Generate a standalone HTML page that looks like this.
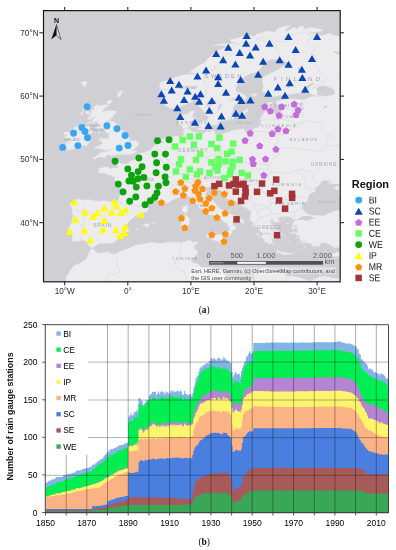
<!DOCTYPE html>
<html lang="en"><head><meta charset="utf-8"><title>Rain gauge stations by region</title>
<style>
html,body{margin:0;padding:0;background:#fff;}
body{width:396px;height:550px;overflow:hidden;position:relative;font-family:"Liberation Sans",sans-serif;}
svg{position:absolute;left:0;top:0;display:block;}
text{font-family:"Liberation Sans",sans-serif;}
.land{fill:#ececee;stroke:#dedee2;stroke-width:0.5;stroke-linejoin:round;}
.sea{fill:#cfcfd4;stroke:none;}
.lake{fill:#cfcfd4;stroke:none;}
.cl{fill:#a2a2aa;}
.cs{font-size:3.7px;fill:#a9a9af;}
.cx{font-size:3.2px;fill:#adadb3;}
.sl{font-size:3.9px;fill:#b6b6bd;font-style:italic;}
.ax{font-size:8.2px;fill:#333;}
.lg{font-size:10px;fill:#111;}
.sb{font-size:7.5px;fill:#5a5a5a;}
.cr{font-size:5.6px;fill:#4a4a4a;}
.ct{font-size:8.5px;fill:#000;}
.cleg{font-size:8.4px;fill:#000;}
.cap{font-family:"Liberation Serif",serif;font-size:9.5px;fill:#111;}
</style></head><body>
<svg width="396" height="550" viewBox="0 0 396 550">
<defs><clipPath id="mc"><rect x="43.5" y="10.6" width="296.7" height="271.2"/></clipPath>
<clipPath id="cc"><rect x="45.3" y="324.7" width="343.2" height="187.8"/></clipPath></defs>
<rect x="0" y="0" width="396" height="550" fill="#fff"/>

<g clip-path="url(#mc)">
<rect class="sea" x="43.5" y="10.6" width="296.7" height="271.2"/>
<polygon class="land" points="341.7,36.6 333.5,35.3 329.7,33.1 324.7,34.4 322.8,35.6 317.1,34.7 312.1,33.4 308.9,31.9 315.8,32.2 324.0,30.5 319.0,28.7 311.4,27.2 307.6,28.1 306.4,30.0 302.6,25.8 298.2,26.8 296.9,29.3 293.8,27.1 287.4,30.9 285.6,32.2 286.8,28.4 290.6,25.5 283.0,26.5 277.3,28.4 274.8,32.8 270.4,30.9 266.6,30.9 261.6,32.8 257.2,33.4 254.0,36.6 247.7,34.7 242.6,36.0 236.3,38.5 228.8,39.8 231.9,42.0 237.6,42.9 230.0,43.6 226.2,43.6 219.9,43.9 211.1,45.8 221.8,45.5 228.1,46.1 222.4,48.6 218.7,49.9 213.6,52.4 209.8,56.9 207.3,58.8 204.8,62.6 199.1,65.1 194.7,68.2 189.6,72.4 195.9,73.6 193.4,74.6 185.9,74.3 180.8,75.2 176.4,76.8 172.0,78.4 166.3,80.3 160.0,82.5 159.3,86.0 160.6,89.1 168.8,89.1 160.0,90.4 160.6,93.6 163.1,96.7 165.7,98.0 161.9,100.5 163.1,102.7 165.0,105.6 169.4,108.1 172.3,108.8 178.3,108.1 183.3,105.6 187.7,103.4 190.9,102.4 193.4,100.5 194.7,97.0 195.6,100.5 197.2,101.8 198.5,103.1 199.1,106.9 202.9,110.7 205.4,114.5 208.6,117.0 207.3,119.8 208.3,121.4 209.5,124.0 209.8,125.3 214.9,125.1 218.3,124.3 217.7,122.1 221.2,120.8 226.2,120.5 229.4,119.5 231.3,117.3 231.9,113.8 233.2,110.3 233.2,107.5 234.4,105.0 237.0,104.0 240.7,103.1 244.5,100.5 247.1,97.4 243.9,94.2 238.9,92.3 236.3,91.7 235.7,87.9 237.0,85.0 238.2,80.9 241.4,79.6 245.2,76.5 249.6,73.9 255.9,72.4 260.3,68.9 262.2,66.0 263.5,62.6 267.9,60.7 272.9,59.4 279.9,59.3 283.7,60.3 288.1,64.4 283.0,66.3 278.0,69.5 273.6,71.7 268.5,74.6 263.5,76.5 262.2,81.2 263.5,86.6 262.8,89.1 262.2,92.0 267.9,93.6 272.9,97.0 279.2,95.8 285.6,95.2 291.9,93.9 297.5,93.3 303.2,92.9 308.9,91.7 312.1,94.8 318.4,96.4 312.1,96.4 307.6,97.7 304.5,99.6 300.1,99.6 295.0,98.9 289.3,98.6 284.0,99.6 279.2,100.2 276.1,101.2 276.1,102.7 276.4,105.3 279.9,106.9 282.4,106.5 281.4,109.7 281.8,113.2 279.9,114.8 276.7,115.1 273.6,112.9 270.4,110.3 264.7,111.6 262.8,114.5 260.3,118.3 260.6,121.1 260.9,123.3 259.7,125.9 257.2,128.1 253.7,128.1 253.4,130.0 251.5,131.2 247.4,131.9 245.2,131.5 244.5,129.3 241.4,128.8 238.5,129.3 231.9,130.6 226.2,132.8 219.9,134.4 217.7,134.7 214.9,133.4 213.9,130.6 211.7,130.0 210.5,132.2 206.7,131.2 204.2,133.1 200.0,134.4 196.6,134.4 197.5,131.5 195.3,132.2 191.8,131.5 190.9,129.6 187.7,128.7 188.4,126.5 188.4,124.6 190.9,123.3 192.2,120.5 196.6,118.9 192.8,117.6 192.8,115.1 194.4,112.2 194.7,110.3 190.6,111.3 187.1,114.1 182.1,114.3 179.5,117.0 178.9,121.4 178.9,124.3 181.4,124.9 182.4,127.1 182.1,128.4 184.6,130.9 182.1,132.2 184.0,133.4 184.0,134.7 181.8,136.6 178.9,137.2 178.6,136.0 173.2,136.0 172.3,138.2 171.3,137.9 166.9,137.8 161.9,139.1 158.1,140.7 156.5,143.9 154.3,146.1 153.0,147.1 149.9,149.9 148.0,150.9 146.1,151.6 142.6,152.8 139.5,153.4 137.8,153.9 137.9,158.1 134.6,159.8 130.1,160.9 128.4,162.6 129.4,163.1 126.2,164.0 120.9,163.4 119.8,161.9 119.8,161.3 117.6,161.6 115.6,161.2 116.4,163.4 117.7,166.7 118.3,168.1 115.2,167.9 113.2,167.8 110.8,168.7 108.6,167.0 105.7,166.8 102.7,167.5 100.0,167.9 97.6,169.5 100.0,169.8 99.1,170.8 98.0,171.8 100.2,173.3 103.1,172.9 106.5,174.0 108.1,175.2 110.4,174.9 112.0,176.6 114.2,176.7 114.5,177.8 114.2,179.3 116.4,181.6 120.5,183.8 121.2,186.9 123.4,189.8 120.9,187.9 119.9,193.3 119.3,197.4 118.0,200.7 115.2,201.7 108.9,201.2 103.8,200.7 98.1,201.2 92.1,200.1 90.9,199.6 83.3,200.2 79.3,198.7 78.0,198.8 75.4,200.9 72.3,201.7 69.3,204.3 70.7,206.2 72.3,208.8 72.0,211.9 73.0,215.4 72.6,218.6 71.8,221.8 70.7,224.9 68.6,226.8 67.9,230.4 69.7,231.1 71.0,230.6 71.6,232.2 69.7,232.8 72.3,233.5 71.8,235.7 72.3,238.5 71.0,241.6 73.1,241.1 77.8,241.7 81.1,240.6 83.9,240.4 87.7,243.0 88.0,244.7 89.8,246.9 92.5,247.9 94.0,247.1 97.0,244.9 99.9,243.5 105.6,243.5 109.5,243.3 112.3,242.8 114.0,243.5 116.1,240.4 119.6,238.2 123.3,237.8 123.5,235.5 124.8,233.2 127.2,231.9 129.3,230.6 126.9,229.0 125.8,226.2 127.8,222.9 130.8,219.7 133.3,218.1 135.7,215.7 141.6,214.0 147.6,211.0 148.7,208.0 147.0,205.6 147.4,202.8 151.1,201.2 155.6,201.1 159.3,201.5 161.6,202.1 165.2,203.2 168.2,203.1 170.1,202.1 172.1,200.2 175.1,199.0 178.3,198.0 181.3,195.5 184.1,194.8 187.7,196.1 190.0,197.1 192.2,198.3 192.8,200.9 194.2,204.2 197.2,205.6 198.2,207.5 202.3,209.4 205.0,211.6 207.4,213.5 210.1,214.9 213.5,214.9 216.1,217.0 218.0,217.6 218.7,218.9 221.0,218.6 222.3,220.5 224.2,222.5 226.6,222.4 227.8,225.2 229.1,227.1 230.0,229.7 227.8,231.2 226.6,234.1 226.9,235.7 229.1,235.8 232.2,232.8 232.5,230.3 235.9,229.0 236.0,226.5 232.5,224.6 232.9,222.1 234.8,219.9 237.0,219.9 240.7,221.4 241.4,223.0 243.6,224.0 244.5,221.8 241.1,218.7 234.2,215.5 228.4,213.2 229.9,210.8 226.2,210.5 222.4,210.0 217.5,207.1 215.2,203.1 213.1,199.8 207.1,197.0 205.3,194.7 206.7,191.4 205.4,189.8 206.0,188.2 210.5,186.6 214.7,186.6 213.3,187.9 213.6,190.1 215.4,192.2 217.4,190.4 218.9,189.0 221.8,191.1 222.9,194.1 223.9,196.6 228.1,199.1 231.5,200.5 235.2,201.9 238.2,203.7 242.0,205.9 244.9,207.5 248.3,209.4 249.9,211.0 251.3,211.6 250.5,214.3 250.2,217.0 250.7,219.9 249.6,220.2 252.4,222.1 254.0,224.3 255.6,225.9 258.7,229.3 260.8,232.0 263.0,233.3 265.5,232.9 269.3,232.8 272.6,235.4 269.1,234.4 264.9,233.8 261.1,235.8 262.2,237.7 264.5,240.1 264.7,242.8 266.4,243.0 267.3,241.6 268.8,244.2 269.6,245.6 270.2,243.2 272.3,243.9 274.2,245.2 273.2,243.3 272.1,240.7 271.4,238.2 273.9,239.7 275.8,238.5 272.9,235.9 275.1,235.5 276.9,235.7 279.4,237.6 279.6,234.4 276.7,232.8 274.2,231.2 270.4,230.0 272.6,229.0 272.6,226.8 274.2,228.4 275.1,227.8 272.9,225.2 271.4,223.0 270.4,220.2 272.5,218.7 272.6,220.5 275.5,223.0 277.3,221.1 278.9,222.9 279.2,220.5 281.8,221.8 278.3,219.5 277.7,218.1 281.8,216.8 286.2,216.7 291.0,217.3 292.2,218.9 296.3,219.2 293.1,222.4 292.3,226.0 297.9,225.4 296.3,227.1 297.4,228.6 297.7,229.5 296.6,231.1 298.8,232.6 295.6,232.5 294.1,231.2 293.8,233.6 296.9,234.4 299.8,236.2 299.4,239.5 302.0,240.2 300.4,241.7 306.4,241.4 302.0,243.1 300.7,243.7 305.1,243.3 306.2,242.6 309.5,243.6 311.4,243.9 312.1,245.8 314.8,246.8 318.0,246.1 319.6,246.8 320.7,244.2 321.5,242.4 325.9,243.1 329.7,244.6 331.6,246.3 335.0,247.9 341.7,246.8"/>
<polygon class="sea" points="311.4,215.0 305.1,212.4 304.7,210.9 301.1,206.9 303.8,205.6 304.0,202.4 307.4,201.4 308.1,198.5 308.6,196.3 310.2,193.6 314.6,192.0 315.6,190.1 315.2,188.2 318.4,185.7 320.3,184.1 321.8,181.2 324.7,180.6 329.1,180.6 332.9,181.2 327.2,181.6 329.7,183.5 334.8,184.1 341.7,184.1 341.7,210.2 336.0,210.7 332.1,211.6 328.5,213.5 326.1,214.6 324.4,215.8 321.5,215.7 318.7,215.1 314.6,215.2"/>
<polygon class="land" points="341.7,185.4 337.3,186.3 332.9,188.8 336.0,189.2 338.4,189.8 339.5,191.4 338.6,193.6 339.5,194.5 341.7,194.8"/>
<polygon class="sea" points="297.5,219.5 298.8,218.8 301.3,216.6 306.1,215.9 310.7,216.2 313.3,217.6 316.5,218.0 313.3,218.4 309.5,219.3 311.4,220.2 304.5,220.4 302.6,219.5 300.1,220.0 296.9,220.3"/>
<polygon class="sea" points="341.7,55.3 336.0,53.7 332.2,50.8 336.0,51.8 341.7,52.7"/>
<polygon class="land" points="65.6,286.0 65.6,281.6 66.2,276.5 69.5,271.4 74.2,265.4 79.8,263.2 84.6,260.5 86.2,258.8 89.0,253.1 90.4,249.3 93.7,248.7 94.5,250.6 98.1,253.1 103.0,252.8 109.2,251.6 109.3,253.3 113.9,253.7 116.1,253.7 120.2,250.9 123.8,249.9 125.9,249.0 128.4,248.5 131.6,246.8 136.0,244.7 141.6,244.2 147.1,243.1 152.5,242.2 159.9,243.3 164.2,242.8 169.3,241.7 171.3,242.4 176.8,242.3 181.1,242.3 183.1,241.9 190.1,239.8 192.8,242.6 197.5,241.2 197.8,242.6 194.7,245.5 194.1,248.0 196.1,249.5 197.6,251.2 197.8,252.9 195.7,256.0 191.5,258.8 191.2,261.4 194.7,262.9 198.0,263.8 199.7,266.1 204.0,267.5 211.0,267.6 217.8,269.2 223.1,270.9 224.7,275.2 226.9,277.8 232.5,278.4 238.2,280.0 243.3,282.2 245.2,286.0 253.4,286.0 253.7,281.6 254.6,278.4 253.7,274.6 254.4,272.6 257.8,269.9 260.0,268.9 264.7,267.5 270.7,268.5 273.6,270.8 279.1,272.8 285.6,274.0 286.5,276.5 291.4,275.7 299.7,277.4 305.7,279.4 310.5,280.7 316.5,278.4 319.6,276.7 324.0,275.9 328.6,276.4 331.6,278.0 341.7,279.0 341.7,286.0"/>
<polygon class="land" points="91.8,159.0 93.2,158.0 95.7,156.7 96.6,155.9 99.3,152.9 101.3,152.4 101.8,151.7 105.9,151.7 109.0,150.9 111.1,149.3 108.9,149.6 107.8,150.2 104.5,150.1 102.9,149.3 100.7,149.5 100.0,148.3 98.1,148.8 95.0,148.8 94.4,147.5 96.4,146.6 98.3,146.0 102.1,144.1 102.2,142.2 101.7,140.9 97.8,141.7 100.7,139.6 98.5,138.5 100.4,137.8 101.9,138.8 103.6,138.3 105.7,138.4 108.2,138.8 108.6,137.6 108.9,136.3 108.6,135.2 109.8,133.4 107.3,133.4 104.9,130.9 105.3,130.0 108.6,128.1 105.1,128.6 102.2,129.1 100.0,129.8 97.5,128.7 97.1,130.1 95.5,128.8 95.3,127.8 97.1,126.2 98.6,124.8 97.4,123.7 97.8,121.7 95.6,121.7 94.0,122.4 93.1,124.9 91.3,125.9 91.6,124.6 92.8,120.9 93.3,118.8 95.6,116.2 91.8,117.9 88.5,116.8 91.0,115.1 91.7,113.3 91.1,112.4 91.8,110.5 91.1,109.6 94.4,109.4 93.9,107.2 96.2,104.8 97.9,105.2 99.9,105.4 102.6,105.0 105.6,105.0 106.5,104.5 108.7,104.7 108.4,106.0 104.8,108.0 102.6,109.6 103.9,109.6 101.2,112.1 103.4,111.4 107.1,110.5 115.2,110.7 116.6,111.9 114.7,114.1 113.9,115.3 112.3,117.0 111.5,117.9 109.1,118.6 111.5,119.6 107.9,120.8 106.3,121.4 107.8,121.5 110.6,121.0 112.0,121.4 114.4,121.9 115.2,122.9 117.1,124.0 118.3,126.9 118.8,127.7 119.2,128.4 120.4,129.7 121.2,130.2 124.0,131.0 125.3,132.3 127.3,133.3 126.5,134.1 128.6,136.7 125.7,135.9 127.4,136.8 129.5,138.3 130.0,139.5 128.1,141.0 130.3,141.7 130.9,140.7 133.2,140.6 136.0,140.9 138.8,142.9 138.9,143.7 138.4,144.7 137.9,145.8 136.3,147.1 135.1,148.1 133.8,149.3 132.2,149.7 130.3,150.1 132.5,150.2 134.3,150.8 136.5,150.6 136.6,151.7 136.1,152.3 135.2,152.6 133.9,153.6 131.5,154.0 129.4,154.7 126.9,154.2 125.5,154.3 122.8,154.8 120.9,154.4 119.0,153.7 118.1,154.7 115.9,154.8 115.5,155.6 112.3,155.5 112.3,156.2 109.3,154.8 106.3,155.5 105.6,156.5 104.8,158.0 101.7,157.1 98.5,157.3 95.8,158.5 95.0,159.7 92.8,158.6"/>
<polygon class="land" points="81.3,125.3 84.1,126.3 81.7,127.6 83.9,126.5 85.8,126.4 89.0,126.4 91.2,128.7 90.6,130.2 92.0,129.9 93.5,131.2 92.8,132.1 92.1,132.7 90.1,133.8 87.7,134.1 88.6,135.3 89.0,138.2 89.9,140.6 89.1,141.7 88.7,143.3 87.7,144.7 87.6,145.7 84.1,146.0 83.6,145.5 79.8,146.3 78.3,147.1 75.4,148.0 74.0,149.3 71.8,149.6 68.7,150.1 65.8,150.2 68.2,148.8 63.4,149.4 67.4,147.6 62.5,147.4 66.0,146.1 61.8,146.1 63.1,145.0 65.6,145.0 65.0,144.1 71.0,142.9 65.1,143.2 66.9,142.4 68.3,140.6 69.3,139.5 70.7,138.7 69.1,138.9 65.6,138.5 63.2,137.9 64.6,137.3 65.3,136.5 67.5,135.3 63.1,134.3 64.7,132.2 65.8,132.0 68.8,132.0 69.7,132.7 73.5,132.2 74.5,131.1 76.6,130.1 74.5,130.2 72.4,129.8 72.5,129.5 73.8,128.8 73.8,127.8 75.6,126.7 77.5,126.4 79.7,126.0 80.5,127.4 80.3,126.0"/>
<polygon class="land" points="83.0,110.0 88.7,105.6 89.0,107.5 87.4,108.8 85.5,110.3 83.0,110.7"/>
<polygon class="land" points="80.5,114.5 82.4,111.0 83.3,111.3 82.4,114.5"/>
<polygon class="land" points="85.2,112.2 88.0,110.7 89.3,112.9 92.1,113.5 89.9,114.9 87.1,113.8"/>
<polygon class="land" points="87.7,119.5 88.0,117.6 90.6,117.3 92.1,118.9 89.9,119.5"/>
<polygon class="land" points="86.8,123.3 89.0,121.9 91.8,120.5 91.5,122.1 89.3,124.0"/>
<polygon class="land" points="94.0,124.0 95.0,123.2 95.7,124.3 95.0,125.0"/>
<polygon class="land" points="106.3,102.7 107.6,101.5 109.5,100.2 112.7,100.8 110.8,102.7 109.5,104.0 107.0,103.8"/>
<polygon class="land" points="117.4,96.7 117.1,94.2 119.0,92.0 121.8,90.7 123.1,91.7 121.2,93.9 120.9,96.1 119.6,97.0"/>
<polygon class="land" points="80.5,82.8 83.6,81.2 87.4,81.5 86.2,83.8 85.5,87.2 83.6,86.0"/>
<polygon class="land" points="97.5,133.8 99.1,131.5 100.7,132.2 99.1,133.6"/>
<polygon class="land" points="117.8,155.2 119.6,154.5 121.0,155.1 119.6,155.8"/>
<polygon class="land" points="187.1,203.7 187.4,205.6 188.1,209.4 186.5,212.6 185.7,214.0 183.3,212.1 182.1,210.7 181.8,209.2 182.9,206.4 184.3,205.9 186.5,205.6 186.7,204.0"/>
<polygon class="land" points="185.7,214.8 188.1,216.9 189.8,219.3 189.0,223.1 187.9,228.4 185.2,227.8 183.6,229.8 180.8,229.0 180.7,226.2 181.4,223.6 180.7,222.5 181.2,220.8 180.2,219.2 179.3,219.2 179.5,216.7 180.8,217.4 182.7,216.9 184.6,215.5"/>
<polygon class="land" points="226.6,233.7 224.3,236.3 223.1,238.5 224.0,240.4 224.3,241.4 223.4,243.7 221.5,243.5 217.7,241.2 215.7,241.1 213.3,240.0 210.3,238.5 207.2,237.6 206.2,236.6 206.7,235.2 208.1,234.2 209.1,235.2 212.2,234.5 216.3,235.1 220.9,234.3 224.0,233.7"/>
<polygon class="land" points="142.4,225.4 144.8,224.0 148.1,223.0 147.7,223.8 149.7,224.5 148.8,225.7 147.6,227.3 147.0,227.3 144.4,225.5 142.8,225.7"/>
<polygon class="land" points="151.8,222.6 153.7,222.2 155.1,223.3 154.3,223.8 152.1,223.2"/>
<polygon class="land" points="135.4,229.3 136.9,228.4 138.1,229.0 136.6,230.0"/>
<polygon class="land" points="276.6,250.6 279.4,251.1 282.2,252.0 286.4,252.2 290.1,253.1 292.5,253.1 293.8,252.5 293.6,253.7 290.2,254.4 284.0,254.8 279.9,253.1 277.2,252.9 276.3,252.6"/>
<polygon class="land" points="274.2,228.8 279.9,231.4 282.9,234.4 281.9,235.4 281.1,235.0 278.0,232.9 276.7,232.4 274.9,230.5 273.2,230.0 271.9,230.0"/>
<polygon class="land" points="302.6,248.7 306.1,245.2 305.1,247.7 303.5,248.7"/>
<polygon class="land" points="290.9,227.8 293.1,226.6 295.6,227.1 295.0,229.0 292.5,229.2"/>
<polygon class="land" points="290.9,231.9 292.8,231.7 292.5,234.1 291.2,234.3"/>
<polygon class="land" points="295.5,237.1 298.6,236.8 297.9,237.6 296.0,237.7"/>
<polygon class="land" points="287.8,241.7 289.3,240.4 289.0,242.0"/>
<polygon class="land" points="283.7,235.7 285.2,236.3 285.6,237.3 284.3,236.6"/>
<polygon class="land" points="256.2,234.1 257.5,232.4 259.0,234.7 257.5,235.0"/>
<polygon class="land" points="251.8,224.3 253.7,224.0 254.6,226.5 253.1,226.2"/>
<polygon class="land" points="257.9,236.3 258.7,235.9 260.2,237.3 259.0,237.6"/>
<polygon class="land" points="285.6,223.3 287.1,222.6 288.4,223.3 286.8,224.0"/>
<polygon class="land" points="282.4,218.3 283.3,217.6 284.2,218.6 283.0,219.1"/>
<polygon class="land" points="298.8,251.8 299.4,248.7 299.7,251.2"/>
<polygon class="land" points="297.5,243.3 300.4,242.3 298.8,243.3"/>
<polygon class="land" points="331.5,253.8 334.0,253.2 335.6,253.3 335.5,251.8 338.0,252.1 341.7,251.5 341.7,255.0 336.2,257.1 334.1,256.6 332.2,255.9"/>
<polygon class="land" points="197.8,123.3 199.4,121.6 202.6,121.6 205.4,120.6 207.3,121.2 207.3,123.4 204.8,124.9 206.4,125.9 203.8,127.0 205.4,128.1 203.2,130.3 197.2,129.3 198.5,128.1 202.9,127.8 199.1,126.2 198.0,125.7"/>
<polygon class="land" points="189.3,124.6 192.8,123.8 195.6,124.9 196.3,126.8 193.4,127.6 190.3,126.5"/>
<polygon class="land" points="220.6,127.1 221.2,125.9 223.4,126.8 222.8,127.8"/>
<polygon class="land" points="242.0,114.5 243.3,111.3 247.1,109.1 249.0,109.1 246.7,112.2 243.9,115.4"/>
<polygon class="land" points="231.3,120.2 232.2,116.4 235.7,112.7 234.8,115.7 232.5,119.8"/>
<polygon class="land" points="265.4,106.9 266.6,105.3 271.0,104.6 274.8,105.0 273.6,106.2 269.8,107.5 267.3,109.1 266.3,108.1"/>
<polygon class="land" points="266.9,103.1 269.8,101.8 273.2,102.7 271.4,104.3 269.1,104.2"/>
<polygon class="land" points="250.8,94.8 253.4,93.3 257.2,94.2 255.9,95.8 252.7,95.8"/>
<polygon class="land" points="217.4,247.7 219.6,248.7 219.3,249.3 218.0,248.7"/>
<polygon class="lake" points="317.1,95.5 317.7,91.7 315.8,89.1 320.9,85.7 325.3,85.7 332.2,88.5 335.4,91.7 334.1,94.2 331.0,95.2 326.6,96.1 324.7,96.4 323.4,96.4 322.8,95.5"/>
<polygon class="lake" points="298.2,103.1 301.3,102.4 303.8,103.4 301.3,106.9 305.1,108.4 303.8,109.7 301.3,108.8 300.1,106.2"/>
<polygon class="lake" points="206.0,103.7 207.9,101.8 211.7,99.9 216.1,100.2 216.8,102.4 214.2,104.3 209.8,105.9 206.7,106.2"/>
<polygon class="lake" points="217.1,110.0 218.7,106.5 219.9,103.4 222.1,104.3 220.6,107.5 219.0,110.0"/>
<polygon class="lake" points="228.8,98.9 234.4,98.6 240.7,99.6 238.9,100.5 232.5,99.9"/>
<polygon class="lake" points="323.4,107.5 324.7,105.6 327.2,106.5 325.9,108.1"/>
<polygon class="lake" points="302.6,89.1 305.7,86.6 310.2,84.1 312.1,82.2 313.9,83.4 309.5,87.2 306.4,89.1"/>
<polygon class="lake" points="297.5,69.5 298.8,67.3 302.6,68.2 300.7,69.8"/>
<polygon class="lake" points="287.4,88.5 288.1,84.1 290.0,83.4 289.3,87.9"/>
<polygon class="lake" points="160.0,142.9 160.6,140.4 163.1,141.4 163.1,143.3"/>
<polygon class="lake" points="337.9,75.8 341.7,74.6 341.7,76.5"/>
<polygon class="lake" points="341.7,71.4 339.2,73.3 341.7,73.9"/>
<path d="M197.8 101.8L202.3 100.5L201.6 96.7L206.7 94.8L205.4 89.8L209.2 87.6L204.8 85.3L204.2 79.6L204.2 73.9L209.8 70.8L216.8 67.9L214.2 67.0L219.3 62.6L219.9 57.5L225.6 56.2L231.3 50.5L229.4 48.6L237.0 44.8L242.0 42.3L254.0 42.9L257.5 38.8M257.5 38.8L263.5 41.0L272.3 43.2L277.3 46.1L276.4 50.5L278.9 53.1L278.6 56.9L280.2 59.4M257.5 38.8L260.3 37.9L264.1 37.2L269.1 40.9L274.2 41.5L284.9 42.0L290.6 39.4L290.0 37.9L291.9 34.7L298.2 33.4L304.5 32.2L307.0 33.7L312.7 37.2L310.5 38.8M310.5 38.8L312.7 36.0L317.7 35.0L322.5 34.1M310.5 38.8L307.6 39.8L307.6 44.2L316.5 47.4L311.4 52.4L317.7 60.0L315.2 65.1L320.6 70.1L317.1 72.4L326.6 77.7L325.3 80.3L313.9 87.9L303.2 92.6M304.8 99.6L302.6 102.4M302.0 109.7L300.7 111.6M281.4 109.6L287.4 108.4L295.0 111.6L300.7 111.6L303.5 113.2L302.6 116.0L305.7 120.5L302.0 122.7L295.6 123.4M260.6 121.0L267.3 118.8L279.2 119.5L285.6 119.5L295.6 123.4L296.9 126.2L290.6 128.4L289.3 132.8L281.8 134.7L276.1 134.4M276.1 134.4L271.7 131.7L271.0 128.1L266.6 127.4L262.0 126.2M271.7 131.7L251.8 131.2M276.1 134.4L278.6 142.3L274.2 144.8L276.7 149.9L279.9 154.0L276.1 156.9L270.7 162.2L270.1 165.2M276.7 149.9L285.6 147.4L299.4 149.3L312.1 150.5L320.9 151.2L323.1 146.3L328.5 146.1L341.7 144.5M305.7 120.5L317.1 122.4L322.8 124.0L323.4 127.8L322.1 129.0L325.3 132.8L332.9 136.0L334.1 137.6L325.9 139.1L328.5 146.1M217.7 134.7L218.7 139.1L217.1 141.4L220.2 143.3L220.9 146.3L219.9 148.0L222.4 151.2L221.3 153.9M221.3 153.9L218.0 153.1L213.0 155.0L206.7 157.2L204.2 157.5L207.0 160.0L206.0 161.0L209.8 163.8L215.2 167.2M221.3 153.9L224.3 154.0L230.0 155.3L231.0 156.2L233.2 158.8L235.1 156.9L239.5 157.5L241.4 159.4L246.7 162.4M215.2 167.2L220.6 168.3L222.4 165.7L228.8 167.3L234.8 168.3L236.3 166.7L242.0 165.1L246.7 162.4L252.7 164.5L254.6 163.8L260.3 163.2L270.1 165.2L267.6 169.5M267.6 169.5L264.7 169.8L257.2 168.9L251.5 170.8L246.4 171.7L245.8 173.3L240.1 173.6L236.0 172.1M234.8 168.3L236.0 172.1L235.7 174.0L231.6 175.9L229.4 179.3M267.6 169.5L272.3 172.1L266.6 175.9L261.6 182.2L255.7 184.0M272.3 172.1L284.9 173.6L295.6 170.5L302.0 169.2L311.7 172.1L314.6 182.2L317.9 182.2M295.6 170.5L299.4 173.3L305.1 179.0L306.1 188.2L314.9 189.2M270.8 196.0L272.3 198.6L281.1 199.3L289.3 199.6L298.2 196.6L308.1 199.0M255.7 184.0L262.8 189.8L262.8 192.3L267.3 194.2L270.8 196.0M255.7 184.0L247.1 185.2L239.2 185.7L232.5 181.7L229.4 179.3M229.4 179.3L226.6 180.3L219.9 182.2L214.2 181.4L206.0 180.3L204.5 177.9L197.2 179.8L193.9 179.3M193.9 179.3L193.7 181.2L191.2 183.1L186.5 181.6L184.6 185.8L181.1 181.9L177.3 185.2L172.2 185.2L170.7 182.2L165.5 183.5L166.3 181.2L171.7 176.5L175.7 174.7L181.8 173.3L188.1 175.0L188.4 178.1L193.9 179.3M188.1 175.0L193.7 174.9L197.2 175.9L204.8 174.6L209.8 175.2L209.2 170.8L212.7 168.5L215.2 167.2M172.2 185.2L169.6 190.4L172.0 195.8L176.4 196.4L175.3 198.8M116.6 201.4L123.1 204.0L131.9 205.6L136.9 206.2L147.8 207.3M71.8 210.9L76.1 209.4L76.4 211.3L86.5 210.4L88.7 212.8L84.1 216.2L84.6 221.1L83.4 224.8L80.3 224.9L83.9 228.8L81.7 232.5L83.6 234.1L80.5 238.2L81.0 240.6M143.9 152.6L147.7 154.5L154.0 159.6L158.4 158.5L164.4 162.2L168.0 162.8L174.5 164.7L179.7 165.9L175.8 172.1L175.7 174.7M149.1 150.7L154.6 150.7L159.7 150.1L164.7 152.1L163.5 154.2L165.8 154.7L166.3 151.8L165.7 147.8L170.4 147.4L172.3 145.2L170.1 142.6L173.2 138.8M165.8 154.7L167.9 157.3L166.4 158.6L168.8 160.7L168.0 162.8M182.4 128.4L187.4 128.9M82.1 127.4L80.2 129.3L76.4 131.2L81.7 133.1L85.8 133.8L88.2 133.4M213.6 188.1L219.9 186.9L224.3 187.9L226.6 183.5L232.5 181.7M227.2 189.8L230.7 191.1L235.1 189.8L241.4 190.4L247.7 191.9L249.9 191.7L248.3 195.5L251.5 197.7L249.0 200.5L244.2 206.6M227.2 189.8L228.8 196.1L236.3 200.9L239.2 203.7M247.1 185.2L247.7 191.9M249.0 200.5L255.9 204.7L254.3 206.6L250.2 211.0M254.3 206.6L257.8 210.7L257.2 214.5L260.0 217.3M255.9 204.7L264.7 205.6L268.8 208.1M257.8 210.7L264.1 208.5L268.8 208.1M254.0 224.6L260.0 217.3L272.3 214.2L281.1 212.9L294.1 211.9L295.6 214.2L292.2 218.0M294.1 211.9L300.1 209.4L304.5 210.2M270.8 196.0L269.1 203.7L272.9 202.4L268.8 208.1L272.6 214.2M113.9 253.7L116.8 257.5L117.1 265.1L120.2 272.4L108.9 275.2L104.8 282.8M182.1 242.0L179.9 248.0L180.2 256.2L175.1 260.0L175.4 265.7L180.2 270.2L184.9 272.7L187.7 284.1M200.7 265.9L200.0 270.8L192.8 275.2L192.8 280.3L187.7 284.1M286.5 275.6L285.6 286.0" fill="none" stroke="#d7d7dc" stroke-width="0.6" stroke-linejoin="round"/>
<text class="cl" style="font-size:5.7px" x="204.8" y="78.3" textLength="36.5" lengthAdjust="spacing">SWEDEN</text>
<text class="cl" style="font-size:5.8px" x="273.8" y="81.0" textLength="46.2" lengthAdjust="spacing">FINLAND</text>
<text class="cl" style="font-size:4.2px" x="179.5" y="88.8" textLength="18.0" lengthAdjust="spacing">NORWAY</text>
<text class="cl" style="font-size:3.8px" x="176.0" y="123.5" textLength="30.5" lengthAdjust="spacing">DENMARK</text>
<text class="cl" style="font-size:3.9px" x="270.0" y="106.6" textLength="23.0" lengthAdjust="spacing">ESTONIA</text>
<text class="cl" style="font-size:3.9px" x="277.0" y="117.6" textLength="16.0" lengthAdjust="spacing">LATVIA</text>
<text class="cl" style="font-size:4.0px" x="261.5" y="126.6" textLength="34.1" lengthAdjust="spacing">LITHUANIA</text>
<text class="cl" style="font-size:4.3px" x="289.4" y="141.2" textLength="27.8" lengthAdjust="spacing">BELARUS</text>
<text class="cl" style="font-size:4.7px" x="311.0" y="165.5" textLength="25.4" lengthAdjust="spacing">UKRAINE</text>
<text class="cl" style="font-size:4.5px" x="178.0" y="151.7" textLength="29.4" lengthAdjust="spacing">GERMANY</text>
<text class="cl" style="font-size:3.8px" x="208.0" y="161.9" textLength="28.7" lengthAdjust="spacing">CZECHIA</text>
<text class="cl" style="font-size:3.8px" x="204.0" y="178.8" textLength="18.0" lengthAdjust="spacing">AUSTRIA</text>
<text class="cl" style="font-size:3.8px" x="236.6" y="181.8" textLength="21.4" lengthAdjust="spacing">HUNGARY</text>
<text class="cl" style="font-size:4.2px" x="271.8" y="186.1" textLength="29.2" lengthAdjust="spacing">ROMANIA</text>
<text class="cl" style="font-size:4.4px" x="274.4" y="205.3" textLength="30.3" lengthAdjust="spacing">BULGARIA</text>
<text class="cl" style="font-size:4.5px" x="257.2" y="228.9" textLength="24.0" lengthAdjust="spacing">GREECE</text>
<text class="cl" style="font-size:4.2px" x="196.0" y="207.0" textLength="12.0" lengthAdjust="spacing">ITALY</text>
<text class="cl" style="font-size:3.9px" x="137.5" y="180.9" textLength="16.7" lengthAdjust="spacing">FRANCE</text>
<text class="cl" style="font-size:5.2px" x="93.3" y="227.0" textLength="18.2" lengthAdjust="spacing">SPAIN</text>
<text class="cl" style="font-size:3.7px" x="64.0" y="141.2" textLength="16.4" lengthAdjust="spacing">IRELAND</text>
<text class="cl" style="font-size:3.0px" x="90.0" y="127.1" textLength="10.6" lengthAdjust="spacing">UNITED</text>
<text class="cl" style="font-size:3.0px" x="89.2" y="131.2" textLength="13.9" lengthAdjust="spacing">KINGDOM</text>
<text class="cl" style="font-size:4.4px" x="171.7" y="260.4" textLength="25.3" lengthAdjust="spacing">TUNISIA</text>
<text class="sl" x="135.0" y="115.8" textLength="16.0" lengthAdjust="spacing">North Sea</text>
<text class="sl" x="236.0" y="124.0" textLength="16.0" lengthAdjust="spacing">Baltic Sea</text>
<text class="sl" x="318.0" y="203.0" textLength="18.0" lengthAdjust="spacing">Black Sea</text>
<circle cx="87.2" cy="106.7" r="3.45" fill="#38a5f7"/>
<circle cx="81.9" cy="127.5" r="3.45" fill="#38a5f7"/>
<circle cx="85.0" cy="131.5" r="3.45" fill="#38a5f7"/>
<circle cx="73.6" cy="133.2" r="3.45" fill="#38a5f7"/>
<circle cx="87.5" cy="137.8" r="3.45" fill="#38a5f7"/>
<circle cx="106.9" cy="125.8" r="3.45" fill="#38a5f7"/>
<circle cx="117.0" cy="128.8" r="3.45" fill="#38a5f7"/>
<circle cx="125.1" cy="135.5" r="3.45" fill="#38a5f7"/>
<circle cx="77.9" cy="145.6" r="3.45" fill="#38a5f7"/>
<circle cx="62.7" cy="147.4" r="3.45" fill="#38a5f7"/>
<circle cx="128.0" cy="145.5" r="3.45" fill="#38a5f7"/>
<circle cx="119.2" cy="148.1" r="3.45" fill="#38a5f7"/>
<polygon points="246.7,32.1 242.6,39.1 250.8,39.1" fill="#0a47b2"/>
<polygon points="228.3,43.7 224.2,50.8 232.4,50.8" fill="#0a47b2"/>
<polygon points="246.1,39.8 242.0,46.8 250.2,46.8" fill="#0a47b2"/>
<polygon points="216.2,50.0 212.1,57.0 220.2,57.0" fill="#0a47b2"/>
<polygon points="239.7,48.9 235.6,55.9 243.8,55.9" fill="#0a47b2"/>
<polygon points="223.2,56.2 219.1,63.3 227.2,63.3" fill="#0a47b2"/>
<polygon points="235.4,60.5 231.3,67.6 239.5,67.6" fill="#0a47b2"/>
<polygon points="206.1,66.4 202.0,73.5 210.2,73.5" fill="#0a47b2"/>
<polygon points="197.5,72.5 193.4,79.5 201.6,79.5" fill="#0a47b2"/>
<polygon points="218.2,73.2 214.1,80.2 222.2,80.2" fill="#0a47b2"/>
<polygon points="240.7,76.0 236.6,83.1 244.8,83.1" fill="#0a47b2"/>
<polygon points="218.2,80.0 214.1,87.0 222.2,87.0" fill="#0a47b2"/>
<polygon points="170.2,77.0 166.1,84.0 174.2,84.0" fill="#0a47b2"/>
<polygon points="179.0,80.8 174.9,87.8 183.1,87.8" fill="#0a47b2"/>
<polygon points="171.7,86.5 167.6,93.6 175.8,93.6" fill="#0a47b2"/>
<polygon points="187.6,87.4 183.5,94.5 191.7,94.5" fill="#0a47b2"/>
<polygon points="200.5,90.2 196.4,97.2 204.6,97.2" fill="#0a47b2"/>
<polygon points="226.0,88.7 221.9,95.8 230.1,95.8" fill="#0a47b2"/>
<polygon points="161.4,90.2 157.3,97.2 165.5,97.2" fill="#0a47b2"/>
<polygon points="195.2,92.8 191.1,99.8 199.2,99.8" fill="#0a47b2"/>
<polygon points="238.9,93.7 234.8,100.8 243.0,100.8" fill="#0a47b2"/>
<polygon points="184.1,96.0 180.0,103.0 188.2,103.0" fill="#0a47b2"/>
<polygon points="163.9,96.8 159.8,103.8 168.0,103.8" fill="#0a47b2"/>
<polygon points="211.9,96.9 207.8,104.0 216.0,104.0" fill="#0a47b2"/>
<polygon points="199.2,97.8 195.1,104.8 203.2,104.8" fill="#0a47b2"/>
<polygon points="250.0,51.5 245.9,58.5 254.1,58.5" fill="#0a47b2"/>
<polygon points="255.7,43.6 251.6,50.6 259.8,50.6" fill="#0a47b2"/>
<polygon points="269.5,39.8 265.4,46.8 273.6,46.8" fill="#0a47b2"/>
<polygon points="288.5,33.0 284.4,40.0 292.6,40.0" fill="#0a47b2"/>
<polygon points="317.0,33.0 312.9,40.0 321.1,40.0" fill="#0a47b2"/>
<polygon points="295.6,46.1 291.6,53.1 299.7,53.1" fill="#0a47b2"/>
<polygon points="263.2,57.7 259.1,64.8 267.2,64.8" fill="#0a47b2"/>
<polygon points="279.6,56.2 275.6,63.2 283.7,63.2" fill="#0a47b2"/>
<polygon points="288.5,60.7 284.4,67.8 292.6,67.8" fill="#0a47b2"/>
<polygon points="312.0,54.9 307.9,61.9 316.1,61.9" fill="#0a47b2"/>
<polygon points="301.9,65.8 297.8,72.8 305.9,72.8" fill="#0a47b2"/>
<polygon points="258.2,70.8 254.1,77.8 262.2,77.8" fill="#0a47b2"/>
<polygon points="302.4,74.0 298.3,81.0 306.4,81.0" fill="#0a47b2"/>
<polygon points="289.7,79.2 285.6,86.2 293.8,86.2" fill="#0a47b2"/>
<polygon points="277.9,83.5 273.8,90.5 281.9,90.5" fill="#0a47b2"/>
<polygon points="305.2,85.7 301.1,92.8 309.2,92.8" fill="#0a47b2"/>
<polygon points="268.3,89.7 264.2,96.8 272.4,96.8" fill="#0a47b2"/>
<polygon points="285.0,91.7 280.9,98.8 289.1,98.8" fill="#0a47b2"/>
<polygon points="250.4,96.5 246.3,103.5 254.5,103.5" fill="#0a47b2"/>
<polygon points="241.4,96.9 237.3,104.0 245.5,104.0" fill="#0a47b2"/>
<polygon points="242.1,111.8 238.0,118.8 246.2,118.8" fill="#0a47b2"/>
<polygon points="177.3,104.2 173.2,111.2 181.4,111.2" fill="#0a47b2"/>
<polygon points="209.3,106.7 205.2,113.8 213.4,113.8" fill="#0a47b2"/>
<polygon points="180.3,113.0 176.2,120.0 184.4,120.0" fill="#0a47b2"/>
<polygon points="221.5,112.5 217.4,119.5 225.6,119.5" fill="#0a47b2"/>
<polygon points="235.9,109.7 231.8,116.8 240.0,116.8" fill="#0a47b2"/>
<polygon points="194.9,118.8 190.8,125.8 199.0,125.8" fill="#0a47b2"/>
<polygon points="208.6,121.9 204.5,129.0 212.7,129.0" fill="#0a47b2"/>
<polygon points="220.7,122.4 216.6,129.5 224.8,129.5" fill="#0a47b2"/>
<polygon points="264.7,103.2 268.3,105.8 266.9,110.0 262.5,110.0 261.1,105.8" fill="#c56bdd"/>
<polygon points="270.3,107.5 273.9,110.1 272.5,114.3 268.1,114.3 266.7,110.1" fill="#c56bdd"/>
<polygon points="281.7,103.2 285.3,105.8 283.9,110.0 279.5,110.0 278.1,105.8" fill="#c56bdd"/>
<polygon points="294.3,100.6 297.9,103.2 296.5,107.4 292.1,107.4 290.7,103.2" fill="#c56bdd"/>
<polygon points="298.1,106.4 301.7,109.0 300.3,113.2 295.9,113.2 294.5,109.0" fill="#c56bdd"/>
<polygon points="296.1,111.2 299.7,113.8 298.3,118.0 293.9,118.0 292.5,113.8" fill="#c56bdd"/>
<polygon points="279.1,112.0 282.7,114.6 281.3,118.8 276.9,118.8 275.5,114.6" fill="#c56bdd"/>
<polygon points="277.9,125.4 281.5,128.0 280.1,132.2 275.7,132.2 274.3,128.0" fill="#c56bdd"/>
<polygon points="286.0,127.2 289.6,129.8 288.2,134.0 283.8,134.0 282.4,129.8" fill="#c56bdd"/>
<polygon points="272.2,130.1 275.8,132.7 274.4,136.9 270.0,136.9 268.6,132.7" fill="#c56bdd"/>
<polygon points="250.2,129.7 253.8,132.3 252.4,136.5 248.0,136.5 246.6,132.3" fill="#c56bdd"/>
<polygon points="245.1,137.0 248.7,139.6 247.3,143.8 242.9,143.8 241.5,139.6" fill="#c56bdd"/>
<polygon points="259.7,142.3 263.3,144.9 261.9,149.1 257.5,149.1 256.1,144.9" fill="#c56bdd"/>
<polygon points="275.9,145.8 279.5,148.4 278.1,152.6 273.7,152.6 272.3,148.4" fill="#c56bdd"/>
<polygon points="252.5,155.7 256.1,158.3 254.7,162.5 250.3,162.5 248.9,158.3" fill="#c56bdd"/>
<polygon points="253.3,160.3 256.9,162.9 255.5,167.1 251.1,167.1 249.7,162.9" fill="#c56bdd"/>
<polygon points="265.6,155.4 269.2,158.0 267.8,162.2 263.4,162.2 262.0,158.0" fill="#c56bdd"/>
<polygon points="263.8,171.7 267.4,174.3 266.0,178.5 261.6,178.5 260.2,174.3" fill="#c56bdd"/>
<rect x="186.6" y="133.2" width="6.5" height="6.5" fill="#66ff66"/>
<rect x="195.7" y="133.2" width="6.5" height="6.5" fill="#66ff66"/>
<rect x="179.4" y="136.8" width="6.5" height="6.5" fill="#66ff66"/>
<rect x="216.2" y="134.4" width="6.5" height="6.5" fill="#66ff66"/>
<rect x="171.8" y="143.3" width="6.5" height="6.5" fill="#66ff66"/>
<rect x="190.6" y="141.4" width="6.5" height="6.5" fill="#66ff66"/>
<rect x="208.2" y="140.8" width="6.5" height="6.5" fill="#66ff66"/>
<rect x="229.9" y="140.4" width="6.5" height="6.5" fill="#66ff66"/>
<rect x="213.8" y="144.9" width="6.5" height="6.5" fill="#66ff66"/>
<rect x="197.1" y="150.6" width="6.5" height="6.5" fill="#66ff66"/>
<rect x="228.3" y="148.3" width="6.5" height="6.5" fill="#66ff66"/>
<rect x="223.9" y="150.6" width="6.5" height="6.5" fill="#66ff66"/>
<rect x="177.8" y="156.1" width="6.5" height="6.5" fill="#66ff66"/>
<rect x="192.7" y="156.7" width="6.5" height="6.5" fill="#66ff66"/>
<rect x="208.2" y="159.1" width="6.5" height="6.5" fill="#66ff66"/>
<rect x="215.2" y="155.7" width="6.5" height="6.5" fill="#66ff66"/>
<rect x="236.4" y="156.7" width="6.5" height="6.5" fill="#66ff66"/>
<rect x="229.3" y="158.7" width="6.5" height="6.5" fill="#66ff66"/>
<rect x="222.3" y="158.1" width="6.5" height="6.5" fill="#66ff66"/>
<rect x="175.8" y="161.1" width="6.5" height="6.5" fill="#66ff66"/>
<rect x="215.2" y="161.1" width="6.5" height="6.5" fill="#66ff66"/>
<rect x="229.3" y="163.2" width="6.5" height="6.5" fill="#66ff66"/>
<rect x="172.8" y="168.2" width="6.5" height="6.5" fill="#66ff66"/>
<rect x="186.6" y="166.2" width="6.5" height="6.5" fill="#66ff66"/>
<rect x="196.7" y="168.2" width="6.5" height="6.5" fill="#66ff66"/>
<rect x="206.2" y="169.6" width="6.5" height="6.5" fill="#66ff66"/>
<rect x="214.2" y="167.2" width="6.5" height="6.5" fill="#66ff66"/>
<rect x="227.3" y="167.2" width="6.5" height="6.5" fill="#66ff66"/>
<rect x="238.4" y="169.6" width="6.5" height="6.5" fill="#66ff66"/>
<rect x="182.6" y="173.7" width="6.5" height="6.5" fill="#66ff66"/>
<rect x="193.7" y="171.2" width="6.5" height="6.5" fill="#66ff66"/>
<rect x="221.2" y="174.7" width="6.5" height="6.5" fill="#66ff66"/>
<rect x="244.6" y="172.2" width="6.5" height="6.5" fill="#66ff66"/>
<rect x="212.2" y="164.2" width="6.5" height="6.5" fill="#66ff66"/>
<rect x="226.6" y="171.1" width="6.5" height="6.5" fill="#66ff66"/>
<circle cx="157.5" cy="140.8" r="3.45" fill="#0da30d"/>
<circle cx="169.0" cy="139.8" r="3.45" fill="#0da30d"/>
<circle cx="154.8" cy="154.1" r="3.45" fill="#0da30d"/>
<circle cx="165.5" cy="154.1" r="3.45" fill="#0da30d"/>
<circle cx="138.9" cy="158.0" r="3.45" fill="#0da30d"/>
<circle cx="115.1" cy="161.2" r="3.45" fill="#0da30d"/>
<circle cx="156.6" cy="162.8" r="3.45" fill="#0da30d"/>
<circle cx="166.3" cy="167.3" r="3.45" fill="#0da30d"/>
<circle cx="142.1" cy="166.8" r="3.45" fill="#0da30d"/>
<circle cx="127.8" cy="168.9" r="3.45" fill="#0da30d"/>
<circle cx="138.1" cy="171.6" r="3.45" fill="#0da30d"/>
<circle cx="156.1" cy="172.7" r="3.45" fill="#0da30d"/>
<circle cx="131.5" cy="175.3" r="3.45" fill="#0da30d"/>
<circle cx="143.9" cy="177.4" r="3.45" fill="#0da30d"/>
<circle cx="165.1" cy="176.9" r="3.45" fill="#0da30d"/>
<circle cx="138.1" cy="178.8" r="3.45" fill="#0da30d"/>
<circle cx="128.9" cy="181.0" r="3.45" fill="#0da30d"/>
<circle cx="133.3" cy="181.3" r="3.45" fill="#0da30d"/>
<circle cx="118.3" cy="184.1" r="3.45" fill="#0da30d"/>
<circle cx="166.0" cy="182.7" r="3.45" fill="#0da30d"/>
<circle cx="136.3" cy="187.1" r="3.45" fill="#0da30d"/>
<circle cx="146.9" cy="185.9" r="3.45" fill="#0da30d"/>
<circle cx="158.4" cy="186.3" r="3.45" fill="#0da30d"/>
<circle cx="123.0" cy="191.9" r="3.45" fill="#0da30d"/>
<circle cx="157.0" cy="193.0" r="3.45" fill="#0da30d"/>
<circle cx="135.8" cy="196.9" r="3.45" fill="#0da30d"/>
<circle cx="154.8" cy="197.2" r="3.45" fill="#0da30d"/>
<circle cx="129.7" cy="201.3" r="3.45" fill="#0da30d"/>
<circle cx="150.4" cy="200.8" r="3.45" fill="#0da30d"/>
<circle cx="145.1" cy="204.8" r="3.45" fill="#0da30d"/>
<polygon points="74.1,198.4 70.0,205.6 78.1,205.6" fill="#ffff00"/>
<polygon points="114.1,198.4 110.0,205.6 118.1,205.6" fill="#ffff00"/>
<polygon points="85.0,208.2 81.0,215.4 89.0,215.4" fill="#ffff00"/>
<polygon points="104.3,204.1 100.2,211.2 108.3,211.2" fill="#ffff00"/>
<polygon points="116.8,201.9 112.8,209.1 120.8,209.1" fill="#ffff00"/>
<polygon points="97.5,209.1 93.5,216.2 101.5,216.2" fill="#ffff00"/>
<polygon points="93.0,212.8 89.0,220.0 97.0,220.0" fill="#ffff00"/>
<polygon points="111.8,208.2 107.8,215.4 115.8,215.4" fill="#ffff00"/>
<polygon points="120.9,208.8 116.9,215.9 125.0,215.9" fill="#ffff00"/>
<polygon points="125.5,205.9 121.5,213.1 129.6,213.1" fill="#ffff00"/>
<polygon points="140.7,210.5 136.6,217.7 144.8,217.7" fill="#ffff00"/>
<polygon points="75.5,215.5 71.5,222.7 79.5,222.7" fill="#ffff00"/>
<polygon points="104.3,216.6 100.2,223.8 108.3,223.8" fill="#ffff00"/>
<polygon points="69.5,227.5 65.5,234.7 73.5,234.7" fill="#ffff00"/>
<polygon points="84.3,226.4 80.2,233.6 88.3,233.6" fill="#ffff00"/>
<polygon points="102.7,225.8 98.7,232.9 106.8,232.9" fill="#ffff00"/>
<polygon points="115.7,225.8 111.7,232.9 119.8,232.9" fill="#ffff00"/>
<polygon points="125.2,222.8 121.2,230.0 129.2,230.0" fill="#ffff00"/>
<polygon points="124.3,229.1 120.2,236.2 128.3,236.2" fill="#ffff00"/>
<polygon points="120.2,231.9 116.2,239.1 124.2,239.1" fill="#ffff00"/>
<polygon points="90.2,235.9 86.2,243.1 94.2,243.1" fill="#ffff00"/>
<polygon points="180.8,179.0 184.4,181.6 183.0,185.8 178.6,185.8 177.2,181.6" fill="#ff9012"/>
<polygon points="198.0,178.6 201.6,181.2 200.2,185.4 195.8,185.4 194.4,181.2" fill="#ff9012"/>
<polygon points="184.9,185.0 188.5,187.6 187.1,191.8 182.7,191.8 181.3,187.6" fill="#ff9012"/>
<polygon points="195.6,182.5 199.2,185.1 197.8,189.3 193.4,189.3 192.0,185.1" fill="#ff9012"/>
<polygon points="202.4,185.2 206.0,187.8 204.6,192.0 200.2,192.0 198.8,187.8" fill="#ff9012"/>
<polygon points="175.7,188.0 179.3,190.6 177.9,194.8 173.5,194.8 172.1,190.6" fill="#ff9012"/>
<polygon points="183.3,191.6 186.9,194.2 185.5,198.4 181.1,198.4 179.7,194.2" fill="#ff9012"/>
<polygon points="198.5,190.4 202.1,193.0 200.7,197.2 196.3,197.2 194.9,193.0" fill="#ff9012"/>
<polygon points="194.9,186.9 198.5,189.5 197.1,193.7 192.7,193.7 191.3,189.5" fill="#ff9012"/>
<polygon points="214.3,189.0 217.9,191.6 216.5,195.8 212.1,195.8 210.7,191.6" fill="#ff9012"/>
<polygon points="224.4,190.5 228.0,193.1 226.6,197.3 222.2,197.3 220.8,193.1" fill="#ff9012"/>
<polygon points="161.3,199.0 164.9,201.6 163.5,205.8 159.1,205.8 157.7,201.6" fill="#ff9012"/>
<polygon points="192.8,197.2 196.4,199.8 195.0,204.0 190.6,204.0 189.2,199.8" fill="#ff9012"/>
<polygon points="200.1,195.4 203.7,198.0 202.3,202.2 197.9,202.2 196.5,198.0" fill="#ff9012"/>
<polygon points="209.0,194.7 212.6,197.3 211.2,201.5 206.8,201.5 205.4,197.3" fill="#ff9012"/>
<polygon points="205.8,199.8 209.4,202.4 208.0,206.6 203.6,206.6 202.2,202.4" fill="#ff9012"/>
<polygon points="231.3,199.3 234.9,201.9 233.5,206.1 229.1,206.1 227.7,201.9" fill="#ff9012"/>
<polygon points="211.9,204.5 215.5,207.1 214.1,211.3 209.7,211.3 208.3,207.1" fill="#ff9012"/>
<polygon points="205.8,207.6 209.4,210.2 208.0,214.4 203.6,214.4 202.2,210.2" fill="#ff9012"/>
<polygon points="225.2,209.6 228.8,212.2 227.4,216.4 223.0,216.4 221.6,212.2" fill="#ff9012"/>
<polygon points="217.0,214.0 220.6,216.6 219.2,220.8 214.8,220.8 213.4,216.6" fill="#ff9012"/>
<polygon points="181.5,214.6 185.1,217.2 183.7,221.4 179.3,221.4 177.9,217.2" fill="#ff9012"/>
<polygon points="184.7,224.2 188.3,226.8 186.9,231.0 182.5,231.0 181.1,226.8" fill="#ff9012"/>
<polygon points="211.8,231.2 215.4,233.8 214.0,238.0 209.6,238.0 208.2,233.8" fill="#ff9012"/>
<polygon points="225.3,230.4 228.9,233.0 227.5,237.2 223.1,237.2 221.7,233.0" fill="#ff9012"/>
<polygon points="224.0,238.0 227.6,240.6 226.2,244.8 221.8,244.8 220.4,240.6" fill="#ff9012"/>
<rect x="211.2" y="182.9" width="6.5" height="6.5" fill="#a33538"/>
<rect x="215.9" y="180.6" width="6.5" height="6.5" fill="#a33538"/>
<rect x="225.8" y="182.2" width="6.5" height="6.5" fill="#a33538"/>
<rect x="232.6" y="176.2" width="6.5" height="6.5" fill="#a33538"/>
<rect x="235.3" y="181.3" width="6.5" height="6.5" fill="#a33538"/>
<rect x="232.6" y="188.4" width="6.5" height="6.5" fill="#a33538"/>
<rect x="240.3" y="180.7" width="6.5" height="6.5" fill="#a33538"/>
<rect x="242.1" y="184.8" width="6.5" height="6.5" fill="#a33538"/>
<rect x="242.4" y="189.2" width="6.5" height="6.5" fill="#a33538"/>
<rect x="241.8" y="193.2" width="6.5" height="6.5" fill="#a33538"/>
<rect x="237.8" y="197.7" width="6.5" height="6.5" fill="#a33538"/>
<rect x="230.3" y="180.7" width="6.5" height="6.5" fill="#a33538"/>
<rect x="253.8" y="188.6" width="6.5" height="6.5" fill="#a33538"/>
<rect x="258.8" y="180.3" width="6.5" height="6.5" fill="#a33538"/>
<rect x="272.9" y="176.3" width="6.5" height="6.5" fill="#a33538"/>
<rect x="266.9" y="190.1" width="6.5" height="6.5" fill="#a33538"/>
<rect x="271.1" y="187.6" width="6.5" height="6.5" fill="#a33538"/>
<rect x="275.8" y="197.2" width="6.5" height="6.5" fill="#a33538"/>
<rect x="288.8" y="190.6" width="6.5" height="6.5" fill="#a33538"/>
<rect x="288.9" y="194.6" width="6.5" height="6.5" fill="#a33538"/>
<rect x="281.8" y="205.4" width="6.5" height="6.5" fill="#a33538"/>
<rect x="233.3" y="216.1" width="6.5" height="6.5" fill="#a33538"/>
<rect x="273.8" y="231.9" width="6.5" height="6.5" fill="#a33538"/>
<text x="54.0" y="22.9" style="font-size:7px;font-weight:bold;fill:#111;">N</text>
<polygon points="56.4,24.5 51.3,39.5 56.4,35.3" fill="#111"/>
<polygon points="56.4,24.5 61,39.5 56.4,35.3" fill="#dfdfe3" stroke="#111" stroke-width="0.55"/>
<rect x="209" y="261.0" width="114" height="3.7" fill="#505050"/>
<rect x="237.3" y="261.8" width="28.6" height="2.1" fill="#f4f4f4"/>
<rect x="209.6" y="262.4" width="13.8" height="0.9" fill="#aaa"/>
<text class="sb" x="208.6" y="258.4" text-anchor="middle">0</text>
<text class="sb" x="236.8" y="258.4" text-anchor="middle">500</text>
<text class="sb" x="266" y="258.4" text-anchor="middle">1.000</text>
<text class="sb" x="322.5" y="258.3" text-anchor="middle">2.000</text>
<text class="sb" x="324.6" y="263.8">km</text>
<rect x="190" y="267.2" width="146" height="7" fill="#fff" opacity="0.38"/>
<rect x="190" y="274.2" width="63.5" height="7.6" fill="#fff" opacity="0.38"/>
<text class="cr" x="191.3" y="272.8">Esri, HERE, Garmin, (c) OpenStreetMap contributors, and</text>
<text class="cr" x="191.3" y="280.2">the GIS user community</text>
</g>
<rect x="43.5" y="10.6" width="296.7" height="271.2" fill="none" stroke="#1a1a1a" stroke-width="1.2"/>
<path d="M64.7 7.0 V10.6 M64.7 281.8 V285.4" stroke="#1a1a1a" stroke-width="1"/>
<text class="ax" x="64.7" y="294.4" text-anchor="middle">10°W</text>
<path d="M127.8 7.0 V10.6 M127.8 281.8 V285.4" stroke="#1a1a1a" stroke-width="1"/>
<text class="ax" x="127.8" y="294.4" text-anchor="middle">0°</text>
<path d="M190.9 7.0 V10.6 M190.9 281.8 V285.4" stroke="#1a1a1a" stroke-width="1"/>
<text class="ax" x="190.9" y="294.4" text-anchor="middle">10°E</text>
<path d="M254.0 7.0 V10.6 M254.0 281.8 V285.4" stroke="#1a1a1a" stroke-width="1"/>
<text class="ax" x="254.0" y="294.4" text-anchor="middle">20°E</text>
<path d="M317.1 7.0 V10.6 M317.1 281.8 V285.4" stroke="#1a1a1a" stroke-width="1"/>
<text class="ax" x="317.1" y="294.4" text-anchor="middle">30°E</text>
<path d="M39.3 32.8 H43.5 M340.2 32.8 H344.0" stroke="#1a1a1a" stroke-width="1"/>
<text class="ax" x="38.6" y="35.7" text-anchor="end">70°N</text>
<path d="M39.3 96.1 H43.5 M340.2 96.1 H344.0" stroke="#1a1a1a" stroke-width="1"/>
<text class="ax" x="38.6" y="99.0" text-anchor="end">60°N</text>
<path d="M39.3 159.4 H43.5 M340.2 159.4 H344.0" stroke="#1a1a1a" stroke-width="1"/>
<text class="ax" x="38.6" y="162.3" text-anchor="end">50°N</text>
<path d="M39.3 222.7 H43.5 M340.2 222.7 H344.0" stroke="#1a1a1a" stroke-width="1"/>
<text class="ax" x="38.6" y="225.6" text-anchor="end">40°N</text>
<text x="351.8" y="187.7" style="font-size:11px;font-weight:bold;fill:#111;">Region</text>
<circle cx="358.7" cy="200.1" r="3.45" fill="#38a5f7"/>
<text class="lg" transform="translate(368.7,203.4) rotate(0.05) scale(0.87,1)">BI</text>
<polygon points="358.7,207.7 354.6,214.8 362.8,214.8" fill="#0a47b2"/>
<text class="lg" transform="translate(368.7,214.5) rotate(0.05) scale(0.87,1)">SC</text>
<polygon points="358.7,218.9 362.3,221.5 360.9,225.7 356.5,225.7 355.1,221.5" fill="#c56bdd"/>
<text class="lg" transform="translate(368.7,225.6) rotate(0.05) scale(0.87,1)">EE</text>
<rect x="355.4" y="230.2" width="6.5" height="6.5" fill="#66ff66"/>
<text class="lg" transform="translate(368.7,236.8) rotate(0.05) scale(0.87,1)">CE</text>
<circle cx="358.7" cy="244.6" r="3.45" fill="#0da30d"/>
<text class="lg" transform="translate(368.7,247.9) rotate(0.05) scale(0.87,1)">WE</text>
<polygon points="358.7,252.1 354.6,259.2 362.8,259.2" fill="#ffff00"/>
<text class="lg" transform="translate(368.7,259.0) rotate(0.05) scale(0.87,1)">IP</text>
<polygon points="358.7,263.4 362.3,266.0 360.9,270.2 356.5,270.2 355.1,266.0" fill="#ff9012"/>
<text class="lg" transform="translate(368.7,270.1) rotate(0.05) scale(0.87,1)">MR</text>
<rect x="355.4" y="274.7" width="6.5" height="6.5" fill="#a33538"/>
<text class="lg" transform="translate(368.7,281.2) rotate(0.05) scale(0.87,1)">SE</text>
<text class="cap" x="204.2" y="312.8" text-anchor="middle">(<tspan font-weight="bold">a</tspan>)</text>
<rect x="45.3" y="324.7" width="343.2" height="187.8" fill="#fff"/>
<g clip-path="url(#cc)">
<path d="M45.5 512.5V482.8H46.5V482.4H47.6V481.6H48.6V480.6H49.6V480.8H50.7V480.2H51.7V479.5H52.7V479.1H53.8V479.6H54.8V478.3H55.8V476.8H56.9V476.9H57.9V477.3H58.9V476.7H60.0V477.0H61.0V477.1H62.0V476.5H63.1V475.5H64.1V474.7H65.1V475.6H66.2V474.7H67.2V474.0H68.2V474.0H69.3V474.3H70.3V474.0H71.3V472.7H72.4V472.9H73.4V472.8H74.4V472.3H75.5V470.9H76.5V470.7H77.5V470.2H78.6V470.5H79.6V470.3H80.6V470.3H81.7V469.0H82.7V469.2H83.7V468.4H84.8V468.5H85.8V468.2H86.8V467.9H87.9V467.7H88.9V467.3H90.0V466.8H91.0V466.6H92.0V464.8H93.1V464.4H94.1V464.5H95.1V463.3H96.2V462.5H97.2V461.5H98.2V460.7H99.3V460.1H100.3V459.4H101.3V458.7H102.4V458.5H103.4V456.2H104.4V455.1H105.5V454.1H106.5V452.7H107.5V451.2H108.6V451.5H109.6V449.2H110.6V449.3H111.7V449.0H112.7V449.1H113.7V447.9H114.8V447.7H115.8V447.4H116.8V446.5H117.9V446.2H118.9V445.3H119.9V445.2H121.0V444.9H122.0V444.9H123.0V444.8H124.1V444.0H125.1V442.9H126.1V443.4H127.2V442.6H128.2V417.3H129.2V415.6H130.3V412.8H131.3V415.3H132.3V415.3H133.4V412.7H134.4V412.1H135.4V411.4H136.5V409.3H137.5V411.7H138.5V397.9H139.6V398.4H140.6V400.7H141.6V400.8H142.7V405.3H143.7V403.7H144.7V403.0H145.8V400.3H146.8V400.2H147.8V399.9H148.9V395.9H149.9V394.3H150.9V393.8H152.0V391.7H153.0V391.7H154.0V392.0H155.1V391.4H156.1V395.1H157.1V393.2H158.2V391.6H159.2V394.0H160.2V391.9H161.3V390.7H162.3V392.3H163.3V392.2H164.4V394.6H165.4V391.5H166.4V392.4H167.5V392.6H168.5V393.9H169.6V392.6H170.6V390.7H171.6V390.8H172.7V392.2H173.7V390.3H174.7V392.1H175.8V391.6H176.8V391.0H177.8V390.5H178.9V392.3H179.9V390.6H180.9V391.3H182.0V394.4H183.0V394.8H184.0V391.1H185.1V393.7H186.1V394.3H187.1V394.8H188.2V395.2H189.2V394.2H190.2V393.9H191.3V396.4H192.3V393.2H193.3V387.5H194.4V384.6H195.4V378.6H196.4V376.8H197.5V375.2H198.5V371.4H199.5V368.2H200.6V366.5H201.6V367.2H202.6V365.2H203.7V364.8H204.7V364.8H205.7V362.9H206.8V363.0H207.8V363.4H208.8V360.9H209.9V360.7H210.9V358.0H211.9V359.3H213.0V358.7H214.0V358.6H215.0V359.4H216.1V360.5H217.1V358.4H218.1V357.4H219.2V358.4H220.2V360.6H221.2V359.0H222.3V359.9H223.3V356.7H224.3V358.6H225.4V359.6H226.4V360.2H227.4V361.2H228.5V360.5H229.5V362.9H230.5V363.3H231.6V371.8H232.6V376.7H233.6V374.7H234.7V372.0H235.7V372.9H236.7V374.8H237.8V373.6H238.8V373.9H239.8V376.8H240.9V371.1H241.9V368.1H242.9V364.9H244.0V362.2H245.0V361.1H246.0V356.6H247.1V356.2H248.1V353.7H249.1V351.3H250.2V353.2H251.2V353.9H252.2V351.9H253.3V343.0H254.3V343.1H255.4V343.0H256.4V342.9H257.4V342.8H258.5V343.2H259.5V343.0H260.5V342.8H261.6V342.8H262.6V343.0H263.6V343.2H264.7V342.7H265.7V342.6H266.7V342.8H267.8V342.8H268.8V342.8H269.8V342.5H270.9V342.3H271.9V342.4H272.9V342.8H274.0V342.6H275.0V342.5H276.0V342.5H277.1V342.6H278.1V342.6H279.1V342.6H280.2V342.6H281.2V342.7H282.2V342.6H283.3V342.8H284.3V342.6H285.3V342.7H286.4V342.7H287.4V342.6H288.4V342.8H289.5V342.5H290.5V342.4H291.5V342.6H292.6V342.8H293.6V342.5H294.6V342.5H295.7V342.7H296.7V342.4H297.7V342.5H298.8V342.8H299.8V342.5H300.8V342.5H301.9V342.3H302.9V342.4H303.9V342.4H305.0V342.5H306.0V342.4H307.0V342.7H308.1V342.5H309.1V342.4H310.1V342.7H311.2V342.4H312.2V342.3H313.2V342.5H314.3V342.5H315.3V342.5H316.3V342.1H317.4V342.2H318.4V342.3H319.4V342.1H320.5V342.2H321.5V342.2H322.5V342.2H323.6V342.4H324.6V342.2H325.6V342.1H326.7V342.5H327.7V342.5H328.7V342.1H329.8V342.5H330.8V342.2H331.8V342.1H332.9V342.2H333.9V342.3H334.9V341.9H336.0V342.0H337.0V341.8H338.1V341.1H339.1V341.4H340.1V341.8H341.2V342.3H342.2V342.3H343.2V342.9H344.3V342.9H345.3V343.5H346.3V343.4H347.4V343.6H348.4V343.5H349.4V343.4H350.5V343.9H351.5V344.4H352.5V344.8H353.6V345.8H354.6V346.4H355.6V346.6H356.7V348.9H357.7V349.3H358.7V353.5H359.8V354.6H360.8V358.9H361.8V359.7H362.9V361.5H363.9V362.1H364.9V363.2H366.0V363.7H367.0V365.8H368.0V369.5H369.1V368.3H370.1V368.9H371.1V369.4H372.2V370.6H373.2V372.0H374.2V372.7H375.3V372.0H376.3V373.4H377.3V373.2H378.4V373.8H379.4V375.3H380.4V373.2H381.5V374.0H382.5V374.3H383.5V375.2H384.6V376.2H385.6V378.2H386.6V378.8H387.7V378.9H388.7V382.5H389.7V387.0H388.6V512.5Z" fill="#82b4e6"/>
<path d="M45.5 512.5V487.2H46.5V487.4H47.6V486.8H48.6V486.3H49.6V486.0H50.7V485.3H51.7V484.6H52.7V484.5H53.8V484.9H54.8V483.7H55.8V482.6H56.9V482.5H57.9V482.6H58.9V481.9H60.0V482.2H61.0V481.9H62.0V481.3H63.1V480.5H64.1V479.7H65.1V480.1H66.2V479.2H67.2V478.5H68.2V478.3H69.3V478.6H70.3V478.4H71.3V477.0H72.4V477.4H73.4V477.8H74.4V476.8H75.5V475.7H76.5V475.2H77.5V474.9H78.6V475.2H79.6V475.0H80.6V475.1H81.7V473.8H82.7V473.9H83.7V472.9H84.8V473.2H85.8V472.8H86.8V472.4H87.9V472.4H88.9V471.9H90.0V471.8H91.0V471.6H92.0V469.9H93.1V469.0H94.1V468.8H95.1V467.6H96.2V466.5H97.2V465.5H98.2V464.5H99.3V464.0H100.3V463.3H101.3V462.8H102.4V462.5H103.4V460.8H104.4V459.8H105.5V459.2H106.5V457.9H107.5V457.2H108.6V457.1H109.6V455.0H110.6V454.8H111.7V454.9H112.7V454.4H113.7V453.6H114.8V453.1H115.8V453.1H116.8V451.6H117.9V451.6H118.9V450.4H119.9V450.5H121.0V449.9H122.0V450.1H123.0V449.6H124.1V448.7H125.1V447.7H126.1V447.7H127.2V447.3H128.2V422.8H129.2V421.6H130.3V419.7H131.3V421.4H132.3V420.9H133.4V418.5H134.4V417.6H135.4V417.7H136.5V414.8H137.5V417.8H138.5V404.7H139.6V403.9H140.6V405.0H141.6V404.8H142.7V408.5H143.7V406.3H144.7V405.7H145.8V402.4H146.8V401.9H147.8V402.0H148.9V399.4H149.9V400.1H150.9V400.1H152.0V397.6H153.0V397.8H154.0V397.7H155.1V398.3H156.1V400.8H157.1V399.3H158.2V398.3H159.2V400.2H160.2V397.9H161.3V396.1H162.3V398.1H163.3V397.6H164.4V399.9H165.4V396.9H166.4V398.4H167.5V398.0H168.5V398.7H169.6V397.5H170.6V395.9H171.6V395.8H172.7V396.9H173.7V396.4H174.7V397.7H175.8V397.3H176.8V396.8H177.8V397.2H178.9V398.0H179.9V396.1H180.9V397.1H182.0V400.3H183.0V400.3H184.0V396.7H185.1V399.0H186.1V399.1H187.1V400.0H188.2V399.6H189.2V398.3H190.2V398.1H191.3V400.3H192.3V397.2H193.3V392.4H194.4V390.3H195.4V385.0H196.4V382.3H197.5V380.7H198.5V376.3H199.5V373.0H200.6V372.4H201.6V371.6H202.6V370.4H203.7V370.0H204.7V370.1H205.7V368.3H206.8V368.6H207.8V368.9H208.8V367.5H209.9V367.5H210.9V365.1H211.9V366.1H213.0V365.9H214.0V366.3H215.0V366.8H216.1V368.3H217.1V367.1H218.1V367.2H219.2V368.3H220.2V369.6H221.2V368.6H222.3V368.8H223.3V366.5H224.3V368.4H225.4V368.8H226.4V369.1H227.4V370.5H228.5V370.9H229.5V373.1H230.5V373.0H231.6V379.6H232.6V383.6H233.6V382.2H234.7V380.1H235.7V380.9H236.7V382.1H237.8V381.5H238.8V383.0H239.8V384.5H240.9V379.4H241.9V374.8H242.9V370.2H244.0V367.1H245.0V366.1H246.0V363.2H247.1V363.6H248.1V363.3H249.1V360.9H250.2V362.6H251.2V363.2H252.2V360.7H253.3V351.1H254.3V351.2H255.4V351.1H256.4V351.1H257.4V351.1H258.5V351.3H259.5V351.2H260.5V351.0H261.6V350.9H262.6V351.1H263.6V351.4H264.7V350.9H265.7V350.8H266.7V350.9H267.8V351.0H268.8V350.9H269.8V350.8H270.9V350.7H271.9V350.7H272.9V351.0H274.0V350.9H275.0V350.8H276.0V350.7H277.1V350.9H278.1V350.9H279.1V350.8H280.2V350.8H281.2V350.9H282.2V350.8H283.3V351.0H284.3V350.8H285.3V350.9H286.4V351.0H287.4V350.9H288.4V351.0H289.5V350.8H290.5V350.6H291.5V350.7H292.6V350.9H293.6V350.7H294.6V350.8H295.7V350.9H296.7V350.5H297.7V350.6H298.8V350.8H299.8V350.7H300.8V350.6H301.9V350.5H302.9V350.6H303.9V350.6H305.0V350.8H306.0V350.6H307.0V350.8H308.1V350.7H309.1V350.7H310.1V350.8H311.2V350.6H312.2V350.5H313.2V350.6H314.3V350.6H315.3V350.6H316.3V350.1H317.4V350.4H318.4V350.4H319.4V350.2H320.5V350.4H321.5V350.3H322.5V350.4H323.6V350.5H324.6V350.2H325.6V350.3H326.7V350.4H327.7V350.5H328.7V350.2H329.8V350.4H330.8V350.2H331.8V350.1H332.9V350.1H333.9V350.2H334.9V350.0H336.0V350.3H337.0V350.3H338.1V349.9H339.1V350.1H340.1V350.4H341.2V350.9H342.2V350.8H343.2V351.4H344.3V351.5H345.3V351.9H346.3V351.8H347.4V352.2H348.4V352.2H349.4V352.1H350.5V352.7H351.5V353.3H352.5V353.8H353.6V354.7H354.6V355.4H355.6V356.1H356.7V358.4H357.7V358.3H358.7V362.4H359.8V363.8H360.8V368.2H361.8V369.5H362.9V370.5H363.9V371.3H364.9V372.7H366.0V372.7H367.0V373.2H368.0V375.8H369.1V375.0H370.1V376.0H371.1V376.7H372.2V377.6H373.2V378.6H374.2V379.1H375.3V378.8H376.3V380.2H377.3V380.2H378.4V380.5H379.4V381.6H380.4V379.9H381.5V381.0H382.5V381.8H383.5V381.7H384.6V382.9H385.6V384.5H386.6V385.2H387.7V385.5H388.7V387.6H389.7V389.3H388.6V512.5Z" fill="#00ee52"/>
<path d="M45.5 512.5V496.5H46.5V496.8H47.6V496.1H48.6V495.7H49.6V495.6H50.7V494.9H51.7V494.6H52.7V494.6H53.8V494.5H54.8V494.2H55.8V493.1H56.9V493.1H57.9V493.1H58.9V492.8H60.0V493.3H61.0V492.6H62.0V492.2H63.1V491.9H64.1V491.5H65.1V491.6H66.2V491.2H67.2V490.4H68.2V490.9H69.3V490.7H70.3V490.6H71.3V489.6H72.4V489.8H73.4V489.8H74.4V489.4H75.5V488.5H76.5V487.9H77.5V488.1H78.6V488.4H79.6V487.8H80.6V487.9H81.7V487.1H82.7V487.0H83.7V486.4H84.8V486.5H85.8V486.2H86.8V485.7H87.9V485.8H88.9V485.2H90.0V485.1H91.0V484.9H92.0V484.2H93.1V483.4H94.1V483.5H95.1V483.3H96.2V482.5H97.2V482.2H98.2V481.8H99.3V481.7H100.3V481.0H101.3V480.5H102.4V480.0H103.4V479.1H104.4V478.3H105.5V478.0H106.5V477.0H107.5V476.6H108.6V476.4H109.6V474.6H110.6V474.1H111.7V474.6H112.7V473.5H113.7V472.6H114.8V471.9H115.8V471.8H116.8V470.6H117.9V470.5H118.9V469.7H119.9V469.5H121.0V469.3H122.0V469.5H123.0V468.7H124.1V468.3H125.1V467.4H126.1V467.3H127.2V467.2H128.2V445.9H129.2V445.5H130.3V444.2H131.3V446.0H132.3V445.6H133.4V444.7H134.4V443.5H135.4V444.6H136.5V442.2H137.5V445.2H138.5V428.4H139.6V427.4H140.6V427.7H141.6V427.9H142.7V430.9H143.7V429.3H144.7V428.6H145.8V427.6H146.8V427.6H147.8V427.4H148.9V423.9H149.9V424.7H150.9V423.4H152.0V421.9H153.0V421.9H154.0V421.9H155.1V422.9H156.1V425.6H157.1V424.6H158.2V423.6H159.2V425.6H160.2V424.3H161.3V422.4H162.3V424.0H163.3V423.0H164.4V425.1H165.4V422.7H166.4V423.6H167.5V423.2H168.5V423.5H169.6V421.6H170.6V421.3H171.6V421.8H172.7V422.5H173.7V421.6H174.7V423.1H175.8V422.7H176.8V421.8H177.8V422.6H178.9V422.6H179.9V421.5H180.9V421.9H182.0V424.0H183.0V423.3H184.0V419.9H185.1V423.0H186.1V422.8H187.1V423.5H188.2V423.8H189.2V422.4H190.2V421.9H191.3V423.7H192.3V420.1H193.3V413.6H194.4V410.6H195.4V405.8H196.4V405.0H197.5V403.4H198.5V400.5H199.5V398.7H200.6V397.7H201.6V396.5H202.6V396.1H203.7V395.3H204.7V395.6H205.7V393.7H206.8V393.2H207.8V393.2H208.8V392.3H209.9V392.2H210.9V389.9H211.9V390.9H213.0V390.2H214.0V390.2H215.0V390.6H216.1V392.0H217.1V391.0H218.1V390.7H219.2V392.4H220.2V392.7H221.2V392.1H222.3V392.5H223.3V389.1H224.3V392.0H225.4V390.9H226.4V391.6H227.4V392.7H228.5V393.7H229.5V395.1H230.5V395.9H231.6V402.2H232.6V405.4H233.6V404.1H234.7V402.3H235.7V402.2H236.7V403.6H237.8V402.8H238.8V404.7H239.8V405.2H240.9V401.7H241.9V397.7H242.9V392.8H244.0V390.9H245.0V390.4H246.0V387.9H247.1V388.5H248.1V388.2H249.1V386.1H250.2V387.1H251.2V386.2H252.2V384.2H253.3V377.9H254.3V378.1H255.4V378.0H256.4V378.0H257.4V378.0H258.5V378.1H259.5V378.1H260.5V378.1H261.6V377.9H262.6V378.1H263.6V378.4H264.7V378.0H265.7V377.9H266.7V377.9H267.8V378.0H268.8V377.9H269.8V377.9H270.9V377.9H271.9V377.9H272.9V378.1H274.0V377.9H275.0V377.8H276.0V377.8H277.1V378.0H278.1V377.8H279.1V377.8H280.2V377.7H281.2V378.0H282.2V377.8H283.3V378.0H284.3V377.9H285.3V377.8H286.4V378.0H287.4V378.0H288.4V378.0H289.5V377.9H290.5V377.8H291.5V377.8H292.6V378.0H293.6V377.8H294.6V377.8H295.7V377.9H296.7V377.5H297.7V377.7H298.8V377.8H299.8V377.8H300.8V377.6H301.9V377.6H302.9V377.7H303.9V377.7H305.0V377.9H306.0V377.6H307.0V377.9H308.1V377.7H309.1V377.8H310.1V377.9H311.2V377.7H312.2V377.5H313.2V377.7H314.3V377.7H315.3V377.5H316.3V377.2H317.4V377.4H318.4V377.3H319.4V377.3H320.5V377.5H321.5V377.4H322.5V377.5H323.6V377.5H324.6V377.2H325.6V377.3H326.7V377.4H327.7V377.6H328.7V377.3H329.8V377.4H330.8V377.3H331.8V377.1H332.9V377.2H333.9V377.2H334.9V377.1H336.0V377.3H337.0V377.3H338.1V377.0H339.1V377.1H340.1V377.3H341.2V377.7H342.2V377.4H343.2V377.8H344.3V377.9H345.3V378.2H346.3V378.1H347.4V378.6H348.4V378.8H349.4V378.9H350.5V379.5H351.5V380.1H352.5V380.6H353.6V381.7H354.6V382.2H355.6V383.1H356.7V385.9H357.7V386.9H358.7V390.5H359.8V392.2H360.8V395.8H361.8V397.5H362.9V399.3H363.9V400.1H364.9V403.6H366.0V402.7H367.0V403.2H368.0V404.9H369.1V403.8H370.1V404.3H371.1V404.4H372.2V405.0H373.2V405.8H374.2V406.2H375.3V405.6H376.3V406.2H377.3V406.6H378.4V407.7H379.4V409.6H380.4V408.1H381.5V408.9H382.5V410.6H383.5V410.9H384.6V411.2H385.6V412.5H386.6V412.9H387.7V413.4H388.7V414.5H389.7V415.4H388.6V512.5Z" fill="#b585d3"/>
<path d="M45.5 512.5V496.5H46.5V496.8H47.6V496.1H48.6V495.7H49.6V495.6H50.7V494.9H51.7V494.6H52.7V494.6H53.8V494.5H54.8V494.2H55.8V493.2H56.9V493.4H57.9V493.4H58.9V493.2H60.0V493.3H61.0V492.6H62.0V492.2H63.1V492.1H64.1V491.7H65.1V491.6H66.2V491.2H67.2V490.7H68.2V491.0H69.3V490.7H70.3V490.6H71.3V489.8H72.4V489.8H73.4V489.8H74.4V489.4H75.5V488.5H76.5V488.0H77.5V488.1H78.6V488.5H79.6V487.8H80.6V487.9H81.7V487.3H82.7V487.0H83.7V486.5H84.8V486.5H85.8V486.2H86.8V485.7H87.9V485.8H88.9V485.2H90.0V485.1H91.0V484.9H92.0V484.2H93.1V483.9H94.1V483.9H95.1V483.6H96.2V483.0H97.2V482.7H98.2V482.4H99.3V481.9H100.3V481.3H101.3V480.9H102.4V480.2H103.4V479.5H104.4V478.7H105.5V478.0H106.5V477.6H107.5V477.5H108.6V476.9H109.6V475.4H110.6V474.8H111.7V474.9H112.7V474.0H113.7V473.6H114.8V472.7H115.8V472.4H116.8V471.4H117.9V471.3H118.9V470.5H119.9V470.2H121.0V470.1H122.0V470.0H123.0V469.6H124.1V469.1H125.1V468.5H126.1V468.7H127.2V468.2H128.2V446.2H129.2V446.3H130.3V445.5H131.3V446.2H132.3V446.0H133.4V445.0H134.4V443.9H135.4V445.6H136.5V442.8H137.5V445.8H138.5V429.9H139.6V428.4H140.6V429.6H141.6V429.9H142.7V432.8H143.7V431.2H144.7V429.7H145.8V429.6H146.8V429.8H147.8V428.5H148.9V426.3H149.9V426.6H150.9V425.8H152.0V424.5H153.0V424.2H154.0V424.4H155.1V425.1H156.1V426.6H157.1V426.2H158.2V425.3H159.2V426.9H160.2V426.2H161.3V425.1H162.3V426.4H163.3V425.4H164.4V427.3H165.4V425.2H166.4V426.3H167.5V425.5H168.5V426.5H169.6V425.0H170.6V424.6H171.6V424.9H172.7V425.6H173.7V423.9H174.7V425.6H175.8V425.3H176.8V425.0H177.8V425.1H178.9V425.2H179.9V424.6H180.9V424.6H182.0V426.3H183.0V426.0H184.0V423.5H185.1V424.8H186.1V425.3H187.1V425.8H188.2V425.6H189.2V425.2H190.2V424.4H191.3V425.5H192.3V423.8H193.3V418.6H194.4V416.3H195.4V412.9H196.4V411.3H197.5V409.3H198.5V406.4H199.5V403.9H200.6V403.4H201.6V402.7H202.6V403.1H203.7V401.8H204.7V402.1H205.7V400.2H206.8V400.2H207.8V399.9H208.8V400.0H209.9V400.0H210.9V398.0H211.9V399.1H213.0V397.8H214.0V397.9H215.0V398.0H216.1V399.9H217.1V398.7H218.1V397.3H219.2V398.3H220.2V399.2H221.2V399.3H222.3V398.5H223.3V396.6H224.3V398.5H225.4V398.1H226.4V398.0H227.4V399.0H228.5V399.5H229.5V401.6H230.5V402.0H231.6V408.3H232.6V412.4H233.6V411.5H234.7V409.9H235.7V409.0H236.7V410.9H237.8V411.1H238.8V411.8H239.8V412.0H240.9V409.4H241.9V405.1H242.9V399.0H244.0V396.8H245.0V397.0H246.0V394.4H247.1V394.4H248.1V394.0H249.1V392.7H250.2V393.4H251.2V392.6H252.2V391.4H253.3V390.7H254.3V390.9H255.4V390.9H256.4V391.0H257.4V390.9H258.5V391.0H259.5V391.0H260.5V391.1H261.6V391.1H262.6V391.1H263.6V391.4H264.7V391.3H265.7V391.1H266.7V391.2H267.8V391.3H268.8V391.3H269.8V391.4H270.9V391.5H271.9V391.5H272.9V391.5H274.0V391.4H275.0V391.4H276.0V391.4H277.1V391.4H278.1V391.4H279.1V391.4H280.2V391.2H281.2V391.5H282.2V391.4H283.3V391.4H284.3V391.4H285.3V391.4H286.4V391.4H287.4V391.4H288.4V391.5H289.5V391.5H290.5V391.4H291.5V391.5H292.6V391.7H293.6V391.3H294.6V391.5H295.7V391.3H296.7V391.1H297.7V391.2H298.8V391.3H299.8V391.3H300.8V391.2H301.9V391.1H302.9V391.2H303.9V391.3H305.0V391.4H306.0V391.2H307.0V391.3H308.1V391.1H309.1V391.3H310.1V391.3H311.2V391.1H312.2V391.0H313.2V391.2H314.3V391.2H315.3V391.1H316.3V390.8H317.4V390.9H318.4V390.9H319.4V390.9H320.5V391.1H321.5V391.0H322.5V391.1H323.6V391.0H324.6V390.7H325.6V390.9H326.7V390.8H327.7V391.1H328.7V390.9H329.8V391.0H330.8V390.9H331.8V390.8H332.9V390.7H333.9V390.7H334.9V390.6H336.0V390.8H337.0V390.9H338.1V390.5H339.1V390.6H340.1V390.8H341.2V391.1H342.2V391.0H343.2V391.4H344.3V391.3H345.3V391.6H346.3V391.7H347.4V392.0H348.4V392.1H349.4V392.2H350.5V392.6H351.5V393.2H352.5V393.7H353.6V394.7H354.6V395.2H355.6V396.0H356.7V398.0H357.7V398.6H358.7V401.2H359.8V402.1H360.8V404.6H361.8V406.2H362.9V407.8H363.9V409.2H364.9V411.8H366.0V413.1H367.0V415.6H368.0V418.4H369.1V418.3H370.1V418.4H371.1V418.5H372.2V418.9H373.2V419.6H374.2V420.3H375.3V420.2H376.3V420.5H377.3V421.2H378.4V422.2H379.4V423.6H380.4V422.2H381.5V422.4H382.5V423.5H383.5V423.7H384.6V423.9H385.6V424.7H386.6V424.8H387.7V424.7H388.7V424.9H389.7V426.0H388.6V512.5Z" fill="#fdf46e"/>
<path d="M45.5 512.5V497.3H46.5V497.3H47.6V496.5H48.6V496.4H49.6V496.4H50.7V496.0H51.7V495.9H52.7V496.0H53.8V495.9H54.8V495.5H55.8V495.1H56.9V495.2H57.9V495.3H58.9V495.1H60.0V495.2H61.0V494.8H62.0V494.4H63.1V494.4H64.1V494.5H65.1V494.4H66.2V493.9H67.2V493.5H68.2V493.5H69.3V493.3H70.3V493.4H71.3V492.6H72.4V492.6H73.4V492.6H74.4V492.1H75.5V491.6H76.5V491.0H77.5V491.2H78.6V491.3H79.6V490.7H80.6V490.6H81.7V490.4H82.7V490.3H83.7V489.6H84.8V489.6H85.8V489.7H86.8V489.3H87.9V489.0H88.9V489.0H90.0V488.9H91.0V488.7H92.0V488.2H93.1V487.8H94.1V488.3H95.1V488.3H96.2V488.1H97.2V488.3H98.2V488.2H99.3V487.4H100.3V486.4H101.3V485.4H102.4V484.8H103.4V483.7H104.4V483.1H105.5V482.2H106.5V481.7H107.5V481.2H108.6V480.8H109.6V479.7H110.6V479.2H111.7V478.9H112.7V477.9H113.7V477.6H114.8V476.7H115.8V476.2H116.8V475.4H117.9V475.2H118.9V474.6H119.9V474.2H121.0V474.1H122.0V473.9H123.0V473.4H124.1V472.8H125.1V472.5H126.1V472.4H127.2V471.9H128.2V451.0H129.2V451.0H130.3V451.0H131.3V451.7H132.3V451.1H133.4V450.8H134.4V449.7H135.4V451.0H136.5V449.4H137.5V450.8H138.5V439.9H139.6V438.4H140.6V438.2H141.6V438.9H142.7V440.3H143.7V439.2H144.7V437.9H145.8V439.3H146.8V439.6H147.8V439.0H148.9V438.5H149.9V439.4H150.9V438.8H152.0V438.6H153.0V437.9H154.0V438.2H155.1V438.7H156.1V439.6H157.1V438.3H158.2V437.7H159.2V438.7H160.2V438.5H161.3V437.5H162.3V438.4H163.3V437.2H164.4V438.8H165.4V436.7H166.4V437.8H167.5V437.4H168.5V438.3H169.6V437.1H170.6V437.0H171.6V436.8H172.7V437.8H173.7V436.6H174.7V437.4H175.8V437.6H176.8V437.0H177.8V437.3H178.9V436.6H179.9V436.7H180.9V437.0H182.0V438.0H183.0V437.6H184.0V436.3H185.1V437.8H186.1V437.1H187.1V437.9H188.2V437.8H189.2V436.8H190.2V436.9H191.3V436.8H192.3V435.2H193.3V429.2H194.4V426.2H195.4V423.6H196.4V422.5H197.5V421.1H198.5V418.5H199.5V416.4H200.6V416.4H201.6V415.6H202.6V415.3H203.7V413.9H204.7V413.7H205.7V411.7H206.8V412.6H207.8V411.5H208.8V410.9H209.9V411.4H210.9V410.4H211.9V410.9H213.0V410.0H214.0V410.7H215.0V411.0H216.1V411.8H217.1V411.1H218.1V410.8H219.2V411.7H220.2V412.4H221.2V412.4H222.3V411.0H223.3V410.7H224.3V411.4H225.4V411.0H226.4V411.6H227.4V412.3H228.5V411.5H229.5V413.2H230.5V414.5H231.6V424.2H232.6V430.7H233.6V429.7H234.7V428.9H235.7V426.9H236.7V428.6H237.8V429.2H238.8V428.5H239.8V428.7H240.9V426.7H241.9V420.3H242.9V413.8H244.0V412.7H245.0V411.7H246.0V410.4H247.1V410.7H248.1V410.4H249.1V408.4H250.2V409.0H251.2V408.7H252.2V407.2H253.3V406.2H254.3V406.2H255.4V406.2H256.4V406.4H257.4V406.3H258.5V406.4H259.5V406.4H260.5V406.5H261.6V406.5H262.6V406.5H263.6V406.7H264.7V406.7H265.7V406.6H266.7V406.7H267.8V406.7H268.8V406.7H269.8V406.7H270.9V406.8H271.9V406.9H272.9V406.9H274.0V406.8H275.0V406.8H276.0V406.7H277.1V406.8H278.1V406.9H279.1V406.8H280.2V406.7H281.2V406.8H282.2V406.9H283.3V406.9H284.3V406.9H285.3V406.8H286.4V406.9H287.4V406.9H288.4V407.0H289.5V407.0H290.5V407.0H291.5V406.9H292.6V407.1H293.6V406.9H294.6V407.0H295.7V406.9H296.7V406.8H297.7V406.9H298.8V406.9H299.8V406.9H300.8V406.8H301.9V406.8H302.9V407.0H303.9V406.9H305.0V407.0H306.0V406.9H307.0V407.0H308.1V406.9H309.1V407.0H310.1V407.0H311.2V406.8H312.2V406.8H313.2V406.9H314.3V406.8H315.3V406.8H316.3V406.6H317.4V406.7H318.4V406.6H319.4V406.6H320.5V406.8H321.5V406.7H322.5V406.8H323.6V406.7H324.6V406.4H325.6V406.6H326.7V406.6H327.7V406.7H328.7V406.7H329.8V406.7H330.8V406.6H331.8V406.6H332.9V406.6H333.9V406.4H334.9V406.4H336.0V406.6H337.0V406.6H338.1V406.4H339.1V406.4H340.1V406.6H341.2V406.9H342.2V406.9H343.2V407.1H344.3V407.1H345.3V407.3H346.3V407.4H347.4V407.7H348.4V407.8H349.4V407.8H350.5V408.1H351.5V408.7H352.5V409.2H353.6V410.0H354.6V410.5H355.6V411.5H356.7V413.3H357.7V414.7H358.7V416.9H359.8V417.9H360.8V420.2H361.8V421.7H362.9V423.6H363.9V425.8H364.9V428.0H366.0V428.5H367.0V429.3H368.0V430.6H369.1V430.2H370.1V430.7H371.1V431.5H372.2V432.0H373.2V433.0H374.2V433.5H375.3V434.5H376.3V434.9H377.3V435.0H378.4V435.6H379.4V436.8H380.4V436.3H381.5V436.4H382.5V437.1H383.5V437.2H384.6V437.3H385.6V437.5H386.6V437.7H387.7V437.8H388.7V437.6H389.7V438.3H388.6V512.5Z" fill="#fbb385"/>
<path d="M45.5 512.5V508.9H46.5V508.9H47.6V508.9H48.6V508.9H49.6V509.1H50.7V508.9H51.7V509.0H52.7V508.9H53.8V509.0H54.8V509.0H55.8V508.9H56.9V508.9H57.9V509.0H58.9V509.0H60.0V508.9H61.0V509.0H62.0V509.0H63.1V509.0H64.1V508.9H65.1V508.9H66.2V509.0H67.2V509.0H68.2V508.9H69.3V508.9H70.3V509.0H71.3V509.0H72.4V509.0H73.4V509.0H74.4V509.0H75.5V509.0H76.5V508.9H77.5V509.0H78.6V509.0H79.6V508.9H80.6V508.9H81.7V508.9H82.7V509.0H83.7V508.9H84.8V508.9H85.8V509.0H86.8V508.9H87.9V509.0H88.9V508.9H90.0V508.9H91.0V509.0H92.0V506.3H93.1V505.9H94.1V506.2H95.1V506.4H96.2V506.0H97.2V506.1H98.2V505.9H99.3V505.9H100.3V505.4H101.3V505.6H102.4V505.4H103.4V504.8H104.4V505.0H105.5V504.4H106.5V504.3H107.5V501.3H108.6V501.0H109.6V500.5H110.6V499.8H111.7V499.9H112.7V499.2H113.7V499.1H114.8V498.7H115.8V497.9H116.8V497.8H117.9V497.7H118.9V497.3H119.9V497.1H121.0V497.0H122.0V496.9H123.0V496.7H124.1V496.4H125.1V496.1H126.1V496.0H127.2V495.8H128.2V472.6H129.2V472.8H130.3V473.1H131.3V472.9H132.3V473.0H133.4V473.0H134.4V472.0H135.4V472.5H136.5V471.6H137.5V472.3H138.5V462.6H139.6V460.5H140.6V460.2H141.6V460.3H142.7V461.2H143.7V461.3H144.7V459.5H145.8V460.8H146.8V460.1H147.8V459.9H148.9V459.2H149.9V459.7H150.9V459.3H152.0V459.0H153.0V458.3H154.0V458.9H155.1V459.3H156.1V459.7H157.1V458.7H158.2V458.4H159.2V459.0H160.2V458.2H161.3V458.7H162.3V458.5H163.3V458.5H164.4V459.3H165.4V458.4H166.4V458.1H167.5V457.9H168.5V458.7H169.6V458.0H170.6V457.9H171.6V458.0H172.7V458.0H173.7V457.6H174.7V457.8H175.8V457.9H176.8V457.3H177.8V457.9H178.9V457.3H179.9V458.2H180.9V457.9H182.0V458.7H183.0V458.1H184.0V457.9H185.1V457.7H186.1V457.7H187.1V458.3H188.2V458.6H189.2V457.8H190.2V458.5H191.3V458.1H192.3V454.9H193.3V450.4H194.4V447.7H195.4V445.9H196.4V445.5H197.5V444.2H198.5V442.6H199.5V440.8H200.6V440.0H201.6V439.8H202.6V438.4H203.7V437.3H204.7V437.6H205.7V435.8H206.8V435.2H207.8V434.8H208.8V434.2H209.9V433.7H210.9V432.8H211.9V433.3H213.0V432.8H214.0V432.9H215.0V432.4H216.1V432.9H217.1V432.7H218.1V433.0H219.2V433.4H220.2V434.1H221.2V434.2H222.3V433.4H223.3V432.5H224.3V433.0H225.4V432.7H226.4V433.6H227.4V435.2H228.5V436.0H229.5V437.0H230.5V438.0H231.6V445.9H232.6V452.0H233.6V451.6H234.7V450.5H235.7V449.6H236.7V450.2H237.8V451.0H238.8V450.3H239.8V450.9H240.9V449.1H241.9V443.0H242.9V437.1H244.0V436.5H245.0V435.9H246.0V434.0H247.1V432.8H248.1V432.1H249.1V430.8H250.2V431.3H251.2V431.7H252.2V431.2H253.3V428.5H254.3V428.3H255.4V428.3H256.4V428.4H257.4V428.3H258.5V428.3H259.5V428.3H260.5V428.3H261.6V428.3H262.6V428.3H263.6V428.4H264.7V428.3H265.7V428.3H266.7V428.3H267.8V428.4H268.8V428.2H269.8V428.4H270.9V428.3H271.9V428.3H272.9V428.3H274.0V428.2H275.0V428.2H276.0V428.2H277.1V428.3H278.1V428.4H279.1V428.3H280.2V428.2H281.2V428.3H282.2V428.3H283.3V428.4H284.3V428.3H285.3V428.3H286.4V428.4H287.4V428.3H288.4V428.3H289.5V428.3H290.5V428.4H291.5V428.3H292.6V428.4H293.6V428.3H294.6V428.4H295.7V428.2H296.7V428.3H297.7V428.3H298.8V428.3H299.8V428.3H300.8V428.3H301.9V428.2H302.9V428.4H303.9V428.3H305.0V428.3H306.0V428.3H307.0V428.2H308.1V428.3H309.1V428.3H310.1V428.3H311.2V428.1H312.2V428.1H313.2V428.2H314.3V428.2H315.3V428.2H316.3V428.1H317.4V428.1H318.4V428.0H319.4V428.0H320.5V428.1H321.5V428.1H322.5V428.1H323.6V428.1H324.6V428.0H325.6V428.0H326.7V428.0H327.7V428.1H328.7V428.0H329.8V428.1H330.8V428.0H331.8V428.1H332.9V428.0H333.9V427.9H334.9V427.9H336.0V427.9H337.0V428.0H338.1V427.9H339.1V428.0H340.1V428.1H341.2V428.3H342.2V428.4H343.2V428.5H344.3V428.5H345.3V428.6H346.3V428.7H347.4V428.8H348.4V428.8H349.4V428.7H350.5V429.1H351.5V429.6H352.5V430.2H353.6V430.9H354.6V431.4H355.6V432.4H356.7V434.4H357.7V436.5H358.7V438.8H359.8V440.1H360.8V442.2H361.8V443.3H362.9V444.3H363.9V445.7H364.9V447.5H366.0V448.5H367.0V449.8H368.0V451.2H369.1V451.0H370.1V451.5H371.1V452.0H372.2V451.8H373.2V452.5H374.2V452.8H375.3V453.4H376.3V453.5H377.3V453.6H378.4V453.9H379.4V454.7H380.4V454.1H381.5V454.2H382.5V454.9H383.5V454.4H384.6V454.4H385.6V454.5H386.6V454.4H387.7V453.9H388.7V453.6H389.7V453.5H388.6V512.5Z" fill="#4a7fe0"/>
<path d="M45.5 512.5V510.2H46.5V510.2H47.6V510.2H48.6V510.2H49.6V510.3H50.7V510.2H51.7V510.3H52.7V510.2H53.8V510.3H54.8V510.3H55.8V510.2H56.9V510.2H57.9V510.2H58.9V510.3H60.0V510.2H61.0V510.3H62.0V510.3H63.1V510.3H64.1V510.2H65.1V510.2H66.2V510.3H67.2V510.2H68.2V510.2H69.3V510.2H70.3V510.2H71.3V510.2H72.4V510.3H73.4V510.2H74.4V510.2H75.5V510.3H76.5V510.2H77.5V510.3H78.6V510.2H79.6V510.2H80.6V510.2H81.7V510.2H82.7V510.2H83.7V510.2H84.8V510.1H85.8V510.3H86.8V510.2H87.9V510.3H88.9V510.2H90.0V510.2H91.0V510.2H92.0V509.2H93.1V508.8H94.1V508.9H95.1V508.8H96.2V508.5H97.2V508.2H98.2V508.0H99.3V508.1H100.3V507.8H101.3V507.9H102.4V508.0H103.4V507.5H104.4V507.6H105.5V507.4H106.5V507.3H107.5V505.7H108.6V505.4H109.6V504.9H110.6V504.4H111.7V504.3H112.7V503.8H113.7V503.4H114.8V503.1H115.8V502.6H116.8V502.2H117.9V502.0H118.9V501.8H119.9V501.7H121.0V501.4H122.0V501.4H123.0V501.2H124.1V500.9H125.1V500.4H126.1V500.3H127.2V500.2H128.2V497.2H129.2V497.2H130.3V497.6H131.3V497.2H132.3V497.4H133.4V497.2H134.4V496.4H135.4V497.1H136.5V496.5H137.5V496.9H138.5V497.4H139.6V497.2H140.6V497.2H141.6V497.3H142.7V497.5H143.7V497.6H144.7V496.9H145.8V497.9H146.8V497.5H147.8V497.7H148.9V497.3H149.9V497.5H150.9V497.5H152.0V497.6H153.0V496.8H154.0V497.6H155.1V497.6H156.1V498.1H157.1V497.7H158.2V497.2H159.2V498.2H160.2V497.2H161.3V497.9H162.3V497.4H163.3V497.7H164.4V498.4H165.4V497.8H166.4V498.0H167.5V497.4H168.5V498.0H169.6V497.6H170.6V497.8H171.6V497.7H172.7V498.0H173.7V497.6H174.7V498.0H175.8V498.3H176.8V498.0H177.8V498.4H178.9V498.2H179.9V498.9H180.9V498.6H182.0V499.4H183.0V498.8H184.0V498.9H185.1V498.9H186.1V499.1H187.1V498.9H188.2V499.7H189.2V499.0H190.2V499.6H191.3V498.6H192.3V494.4H193.3V488.3H194.4V483.6H195.4V481.2H196.4V481.0H197.5V480.2H198.5V478.9H199.5V477.8H200.6V477.5H201.6V477.9H202.6V476.7H203.7V475.6H204.7V476.4H205.7V475.0H206.8V474.9H207.8V474.8H208.8V474.4H209.9V474.1H210.9V473.4H211.9V473.4H213.0V473.4H214.0V473.2H215.0V472.8H216.1V473.6H217.1V472.9H218.1V473.0H219.2V473.3H220.2V473.6H221.2V473.5H222.3V473.1H223.3V472.2H224.3V472.5H225.4V472.6H226.4V473.0H227.4V474.7H228.5V475.5H229.5V476.9H230.5V478.2H231.6V485.6H232.6V491.5H233.6V490.8H234.7V489.4H235.7V488.0H236.7V488.3H237.8V487.8H238.8V487.4H239.8V487.3H240.9V485.1H241.9V481.1H242.9V476.6H244.0V475.8H245.0V474.9H246.0V473.0H247.1V471.5H248.1V470.7H249.1V469.2H250.2V469.4H251.2V469.3H252.2V468.5H253.3V468.1H254.3V468.0H255.4V467.9H256.4V468.0H257.4V467.9H258.5V467.9H259.5V467.9H260.5V468.0H261.6V467.9H262.6V467.9H263.6V468.0H264.7V468.0H265.7V467.9H266.7V467.9H267.8V467.9H268.8V467.9H269.8V467.9H270.9V467.9H271.9V467.9H272.9V467.9H274.0V467.8H275.0V467.8H276.0V467.8H277.1V467.9H278.1V468.0H279.1V467.9H280.2V467.9H281.2V467.9H282.2V467.9H283.3V467.9H284.3V467.9H285.3V467.8H286.4V468.0H287.4V467.9H288.4V467.9H289.5V467.9H290.5V468.0H291.5V467.9H292.6V467.9H293.6V467.9H294.6V468.0H295.7V467.9H296.7V468.0H297.7V467.9H298.8V467.9H299.8V467.9H300.8V467.9H301.9V467.9H302.9V468.0H303.9V468.0H305.0V467.9H306.0V467.9H307.0V467.9H308.1V468.0H309.1V468.0H310.1V467.9H311.2V467.9H312.2V467.9H313.2V468.0H314.3V467.9H315.3V468.0H316.3V467.9H317.4V467.9H318.4V467.8H319.4V467.8H320.5V467.9H321.5V467.9H322.5V467.9H323.6V467.9H324.6V467.9H325.6V468.0H326.7V467.9H327.7V468.0H328.7V467.9H329.8V468.0H330.8V467.9H331.8V468.0H332.9V468.0H333.9V467.9H334.9V467.9H336.0V467.9H337.0V467.9H338.1V467.9H339.1V467.9H340.1V467.9H341.2V468.0H342.2V467.9H343.2V468.0H344.3V467.9H345.3V467.9H346.3V467.9H347.4V468.0H348.4V468.0H349.4V468.0H350.5V468.0H351.5V467.9H352.5V467.9H353.6V467.9H354.6V467.9H355.6V467.8H356.7V467.8H357.7V467.8H358.7V469.2H359.8V469.1H360.8V469.2H361.8V469.5H362.9V469.1H363.9V469.2H364.9V473.1H366.0V474.0H367.0V474.1H368.0V474.6H369.1V473.9H370.1V474.0H371.1V474.3H372.2V473.6H373.2V474.3H374.2V474.2H375.3V474.3H376.3V474.0H377.3V474.1H378.4V474.1H379.4V474.5H380.4V474.3H381.5V474.1H382.5V474.4H383.5V473.9H384.6V473.9H385.6V474.3H386.6V474.4H387.7V474.0H388.7V473.9H389.7V473.7H388.6V512.5Z" fill="#a65a5a"/>
<path d="M45.5 512.5V511.2H46.5V511.2H47.6V511.2H48.6V511.2H49.6V511.2H50.7V511.2H51.7V511.2H52.7V511.2H53.8V511.2H54.8V511.3H55.8V511.2H56.9V511.2H57.9V511.2H58.9V511.3H60.0V511.3H61.0V511.2H62.0V511.3H63.1V511.3H64.1V511.2H65.1V511.2H66.2V511.2H67.2V511.2H68.2V511.3H69.3V511.2H70.3V511.2H71.3V511.2H72.4V511.2H73.4V511.2H74.4V511.2H75.5V511.2H76.5V511.2H77.5V511.3H78.6V511.2H79.6V511.2H80.6V511.2H81.7V511.2H82.7V511.2H83.7V511.2H84.8V511.2H85.8V511.2H86.8V511.2H87.9V511.2H88.9V511.2H90.0V511.2H91.0V511.2H92.0V510.7H93.1V510.4H94.1V510.4H95.1V510.3H96.2V510.1H97.2V510.0H98.2V509.9H99.3V509.9H100.3V509.9H101.3V509.8H102.4V509.8H103.4V509.6H104.4V509.7H105.5V509.6H106.5V509.7H107.5V508.7H108.6V508.5H109.6V508.4H110.6V507.9H111.7V507.9H112.7V507.6H113.7V507.3H114.8V507.2H115.8V506.7H116.8V506.7H117.9V506.6H118.9V506.3H119.9V506.3H121.0V505.9H122.0V506.0H123.0V505.9H124.1V505.7H125.1V505.3H126.1V505.3H127.2V505.1H128.2V505.2H129.2V505.1H130.3V505.3H131.3V505.1H132.3V505.4H133.4V505.1H134.4V504.6H135.4V505.0H136.5V504.8H137.5V504.7H138.5V504.8H139.6V505.1H140.6V505.0H141.6V504.9H142.7V505.4H143.7V505.6H144.7V505.0H145.8V505.1H146.8V504.9H147.8V504.8H148.9V505.0H149.9V504.9H150.9V505.0H152.0V504.9H153.0V504.7H154.0V504.9H155.1V505.3H156.1V505.1H157.1V504.8H158.2V504.6H159.2V505.3H160.2V504.6H161.3V505.0H162.3V504.9H163.3V504.7H164.4V505.1H165.4V505.1H166.4V505.4H167.5V504.8H168.5V505.1H169.6V504.7H170.6V504.9H171.6V505.1H172.7V505.0H173.7V504.7H174.7V504.9H175.8V504.9H176.8V504.9H177.8V505.3H178.9V505.0H179.9V505.2H180.9V504.9H182.0V505.3H183.0V504.6H184.0V504.5H185.1V504.5H186.1V504.2H187.1V504.4H188.2V504.8H189.2V503.9H190.2V504.6H191.3V503.9H192.3V502.0H193.3V499.1H194.4V497.8H195.4V496.6H196.4V496.4H197.5V495.9H198.5V495.0H199.5V494.4H200.6V494.3H201.6V494.5H202.6V494.0H203.7V493.3H204.7V493.6H205.7V493.1H206.8V493.2H207.8V493.3H208.8V493.4H209.9V492.9H210.9V492.8H211.9V492.7H213.0V492.6H214.0V492.5H215.0V492.5H216.1V492.9H217.1V492.6H218.1V492.9H219.2V493.2H220.2V493.5H221.2V493.6H222.3V493.2H223.3V492.6H224.3V493.0H225.4V492.8H226.4V493.2H227.4V494.2H228.5V494.3H229.5V494.6H230.5V495.2H231.6V499.5H232.6V503.0H233.6V502.5H234.7V502.1H235.7V501.0H236.7V500.9H237.8V500.9H238.8V500.1H239.8V500.1H240.9V499.1H241.9V497.1H242.9V495.3H244.0V494.7H245.0V494.3H246.0V493.3H247.1V492.7H248.1V492.2H249.1V491.0H250.2V491.4H251.2V491.1H252.2V490.9H253.3V490.6H254.3V490.5H255.4V490.5H256.4V490.5H257.4V490.4H258.5V490.5H259.5V490.4H260.5V490.5H261.6V490.5H262.6V490.5H263.6V490.5H264.7V490.5H265.7V490.5H266.7V490.5H267.8V490.5H268.8V490.5H269.8V490.5H270.9V490.5H271.9V490.5H272.9V490.5H274.0V490.5H275.0V490.5H276.0V490.4H277.1V490.5H278.1V490.5H279.1V490.4H280.2V490.5H281.2V490.5H282.2V490.4H283.3V490.4H284.3V490.4H285.3V490.5H286.4V490.5H287.4V490.4H288.4V490.4H289.5V490.5H290.5V490.5H291.5V490.5H292.6V490.5H293.6V490.4H294.6V490.5H295.7V490.5H296.7V490.5H297.7V490.5H298.8V490.5H299.8V490.5H300.8V490.5H301.9V490.4H302.9V490.5H303.9V490.5H305.0V490.4H306.0V490.4H307.0V490.5H308.1V490.6H309.1V490.5H310.1V490.5H311.2V490.4H312.2V490.4H313.2V490.5H314.3V490.5H315.3V490.5H316.3V490.5H317.4V490.5H318.4V490.4H319.4V490.5H320.5V490.5H321.5V490.5H322.5V490.5H323.6V490.5H324.6V490.5H325.6V490.5H326.7V490.5H327.7V490.5H328.7V490.5H329.8V490.5H330.8V490.5H331.8V490.5H332.9V490.5H333.9V490.5H334.9V490.4H336.0V490.5H337.0V490.4H338.1V490.4H339.1V490.4H340.1V490.5H341.2V490.5H342.2V490.5H343.2V490.5H344.3V490.5H345.3V490.5H346.3V490.5H347.4V490.5H348.4V490.5H349.4V490.5H350.5V490.5H351.5V490.5H352.5V490.5H353.6V490.5H354.6V490.5H355.6V490.6H356.7V490.6H357.7V490.5H358.7V491.3H359.8V491.5H360.8V491.4H361.8V491.5H362.9V491.1H363.9V491.5H364.9V493.2H366.0V493.2H367.0V493.3H368.0V493.7H369.1V493.4H370.1V493.3H371.1V493.5H372.2V493.2H373.2V493.4H374.2V493.4H375.3V493.5H376.3V493.2H377.3V493.3H378.4V493.4H379.4V493.6H380.4V493.6H381.5V493.2H382.5V493.5H383.5V493.3H384.6V493.3H385.6V493.5H386.6V493.5H387.7V493.3H388.7V493.2H389.7V493.3H388.6V512.5Z" fill="#3aa657"/>
<path d="M66.2 324.7V512.5M86.8 324.7V512.5M107.5 324.7V512.5M128.2 324.7V512.5M148.9 324.7V512.5M169.6 324.7V512.5M190.2 324.7V512.5M210.9 324.7V512.5M231.6 324.7V512.5M252.2 324.7V512.5M272.9 324.7V512.5M293.6 324.7V512.5M314.3 324.7V512.5M334.9 324.7V512.5M355.6 324.7V512.5M376.3 324.7V512.5" stroke="#000" stroke-opacity="0.33" stroke-width="1.0" fill="none"/>
<path d="M45.3 362.1H388.5M45.3 400.0H388.5M45.3 437.6H388.5M45.3 475.3H388.5" stroke="#000" stroke-opacity="0.32" stroke-width="0.95" fill="none"/>
<rect x="46" y="325.3" width="42" height="129.3" fill="#fff"/>
</g>
<path d="M45.3 324.7H388.5V512.5" stroke="#333" stroke-width="0.9" fill="none"/>
<path d="M45.3 324.3V512.5" stroke="#555" stroke-width="1.1" fill="none"/>
<path d="M44.8 512.6H388.9" stroke="#444" stroke-width="1.4" fill="none"/>
<path d="M45.5 512.5V515.5M66.2 512.5V515.5M86.8 512.5V515.5M107.5 512.5V515.5M128.2 512.5V515.5M148.9 512.5V515.5M169.6 512.5V515.5M190.2 512.5V515.5M210.9 512.5V515.5M231.6 512.5V515.5M252.2 512.5V515.5M272.9 512.5V515.5M293.6 512.5V515.5M314.3 512.5V515.5M334.9 512.5V515.5M355.6 512.5V515.5M376.3 512.5V515.5M42.3 512.5H45.3M42.3 474.9H45.3M42.3 437.3H45.3M42.3 399.8H45.3M42.3 362.2H45.3M42.3 324.6H45.3" stroke="#444" stroke-width="0.9" fill="none"/>
<text class="ct" x="45.5" y="526.4" text-anchor="middle">1850</text>
<text class="ct" x="86.8" y="526.4" text-anchor="middle">1870</text>
<text class="ct" x="128.2" y="526.4" text-anchor="middle">1890</text>
<text class="ct" x="169.6" y="526.4" text-anchor="middle">1910</text>
<text class="ct" x="210.9" y="526.4" text-anchor="middle">1930</text>
<text class="ct" x="252.2" y="526.4" text-anchor="middle">1950</text>
<text class="ct" x="293.6" y="526.4" text-anchor="middle">1970</text>
<text class="ct" x="334.9" y="526.4" text-anchor="middle">1990</text>
<text class="ct" x="376.3" y="526.4" text-anchor="middle">2010</text>
<text class="ct" x="37.4" y="515.6" text-anchor="end">0</text>
<text class="ct" x="37.4" y="478.0" text-anchor="end">50</text>
<text class="ct" x="37.4" y="440.4" text-anchor="end">100</text>
<text class="ct" x="37.4" y="402.9" text-anchor="end">150</text>
<text class="ct" x="37.4" y="365.3" text-anchor="end">200</text>
<text class="ct" x="37.4" y="327.7" text-anchor="end">250</text>
<text transform="translate(12.9,416.5) rotate(-90)" text-anchor="middle" style="font-size:8.9px;font-weight:bold;fill:#111;">Number of rain gauge stations</text>
<rect x="56.4" y="331.4" width="4.4" height="4.3" fill="#82b4e6"/>
<text class="cleg" x="63.2" y="336.5">BI</text>
<rect x="56.4" y="347.5" width="4.4" height="4.3" fill="#00ee52"/>
<text class="cleg" x="63.2" y="352.6">CE</text>
<rect x="56.4" y="363.7" width="4.4" height="4.3" fill="#b585d3"/>
<text class="cleg" x="63.2" y="368.8">EE</text>
<rect x="56.4" y="379.8" width="4.4" height="4.3" fill="#fdf46e"/>
<text class="cleg" x="63.2" y="384.9">IP</text>
<rect x="56.4" y="396.0" width="4.4" height="4.3" fill="#fbb385"/>
<text class="cleg" x="63.2" y="401.1">MR</text>
<rect x="56.4" y="412.1" width="4.4" height="4.3" fill="#4a7fe0"/>
<text class="cleg" x="63.2" y="417.2">SC</text>
<rect x="56.4" y="428.3" width="4.4" height="4.3" fill="#a65a5a"/>
<text class="cleg" x="63.2" y="433.4">SE</text>
<rect x="56.4" y="444.4" width="4.4" height="4.3" fill="#3aa657"/>
<text class="cleg" x="63.2" y="449.5">WE</text>
<text class="cap" x="204.2" y="544.8" text-anchor="middle">(<tspan font-weight="bold">b</tspan>)</text>
</svg></body></html>
